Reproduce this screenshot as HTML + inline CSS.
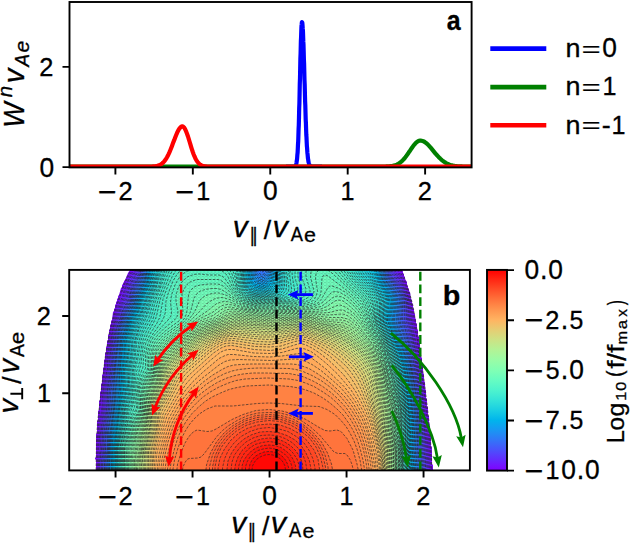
<!DOCTYPE html><html><head><meta charset="utf-8"><style>html,body{margin:0;padding:0;background:#fff}svg{display:block}</style></head><body><svg width="630" height="543" viewBox="0 0 630 543">
<defs><clipPath id="ca"><rect x="69.5" y="2" width="402.1" height="165.4"/></clipPath><clipPath id="cb"><rect x="69.2" y="269.9" width="400.7" height="200.5"/></clipPath><pattern id="tex" width="3.6" height="3" patternUnits="userSpaceOnUse"><rect x="0" y="0" width="2.4" height="1.1" fill="#1a1a1a"/><rect x="1.8" y="1.5" width="2.4" height="1.1" fill="#1a1a1a"/></pattern><linearGradient id="cg" x1="0" y1="1" x2="0" y2="0">
<stop offset="0.00" stop-color="#8000ff"/>
<stop offset="0.05" stop-color="#6628fe"/>
<stop offset="0.10" stop-color="#4c4ffc"/>
<stop offset="0.15" stop-color="#3374f8"/>
<stop offset="0.20" stop-color="#1996f3"/>
<stop offset="0.25" stop-color="#00b4ec"/>
<stop offset="0.30" stop-color="#19cee3"/>
<stop offset="0.35" stop-color="#33e3d9"/>
<stop offset="0.40" stop-color="#4df3ce"/>
<stop offset="0.45" stop-color="#66fcc2"/>
<stop offset="0.50" stop-color="#80ffb4"/>
<stop offset="0.55" stop-color="#99fca6"/>
<stop offset="0.60" stop-color="#b2f396"/>
<stop offset="0.65" stop-color="#cce385"/>
<stop offset="0.70" stop-color="#e5ce74"/>
<stop offset="0.75" stop-color="#ffb462"/>
<stop offset="0.80" stop-color="#ff964f"/>
<stop offset="0.85" stop-color="#ff743c"/>
<stop offset="0.90" stop-color="#ff4f28"/>
<stop offset="0.95" stop-color="#ff2814"/>
<stop offset="1.00" stop-color="#ff0000"/>
</linearGradient></defs>
<rect width="630" height="543" fill="#fff"/>
<g clip-path="url(#ca)" fill="none" stroke-width="4.2" stroke-linejoin="round">
<path stroke="#0000ff" d="M286.0 166.60 286.1 166.60 286.2 166.60 286.4 166.60 286.5 166.60 286.6 166.60 286.7 166.60 286.8 166.60 287.0 166.60 287.1 166.60 287.2 166.60 287.3 166.60 287.4 166.60 287.6 166.60 287.7 166.60 287.8 166.60 287.9 166.60 288.0 166.60 288.2 166.60 288.3 166.60 288.4 166.60 288.5 166.60 288.6 166.60 288.8 166.60 288.9 166.60 289.0 166.60 289.1 166.60 289.3 166.60 289.4 166.60 289.5 166.60 289.6 166.60 289.7 166.60 289.9 166.60 290.0 166.60 290.1 166.60 290.2 166.60 290.3 166.60 290.5 166.60 290.6 166.60 290.7 166.60 290.8 166.60 290.9 166.60 291.1 166.60 291.2 166.60 291.3 166.60 291.4 166.60 291.5 166.60 291.7 166.60 291.8 166.60 291.9 166.60 292.0 166.60 292.1 166.60 292.3 166.60 292.4 166.60 292.5 166.60 292.6 166.60 292.7 166.59 292.9 166.59 293.0 166.59 293.1 166.59 293.2 166.58 293.3 166.58 293.5 166.58 293.6 166.57 293.7 166.56 293.8 166.55 293.9 166.54 294.1 166.52 294.2 166.50 294.3 166.47 294.4 166.44 294.5 166.40 294.7 166.36 294.8 166.30 294.9 166.24 295.0 166.15 295.2 166.06 295.3 165.94 295.4 165.80 295.5 165.63 295.6 165.44 295.8 165.21 295.9 164.94 296.0 164.63 296.1 164.26 296.2 163.83 296.4 163.34 296.5 162.78 296.6 162.13 296.7 161.39 296.8 160.55 297.0 159.59 297.1 158.52 297.2 157.31 297.3 155.96 297.4 154.45 297.6 152.78 297.7 150.93 297.8 148.89 297.9 146.66 298.0 144.23 298.2 141.59 298.3 138.73 298.4 135.65 298.5 132.34 298.6 128.82 298.8 125.08 298.9 121.12 299.0 116.96 299.1 112.60 299.2 108.06 299.4 103.36 299.5 98.52 299.6 93.56 299.7 88.51 299.8 83.39 300.0 78.25 300.1 73.11 300.2 68.01 300.3 63.00 300.4 58.10 300.6 53.36 300.7 48.82 300.8 44.53 300.9 40.51 301.1 36.81 301.2 33.46 301.3 30.49 301.4 27.94 301.5 25.82 301.7 24.17 301.8 22.99 301.9 22.30 302.0 22.10 302.1 22.31 302.3 22.84 302.4 23.71 302.5 24.90 302.6 26.41 302.7 28.22 302.9 30.33 303.0 32.71 303.1 35.36 303.2 38.26 303.3 41.38 303.5 44.70 303.6 48.22 303.7 51.90 303.8 55.72 303.9 59.66 304.1 63.70 304.2 67.82 304.3 72.00 304.4 76.20 304.5 80.42 304.7 84.64 304.8 88.82 304.9 92.97 305.0 97.05 305.1 101.06 305.3 104.99 305.4 108.81 305.5 112.52 305.6 116.11 305.7 119.57 305.9 122.89 306.0 126.08 306.1 129.12 306.2 132.01 306.3 134.75 306.5 137.34 306.6 139.79 306.7 142.09 306.8 144.24 306.9 146.25 307.1 148.12 307.2 149.86 307.3 151.47 307.4 152.96 307.6 154.33 307.7 155.58 307.8 156.74 307.9 157.79 308.0 158.75 308.2 159.62 308.3 160.40 308.4 161.12 308.5 161.76 308.6 162.33 308.8 162.85 308.9 163.31 309.0 163.72 309.1 164.09 309.2 164.41 309.4 164.70 309.5 164.95 309.6 165.18 309.7 165.37 309.8 165.54 310.0 165.69 310.1 165.82 310.2 165.93 310.3 166.03 310.4 166.12 310.6 166.19 310.7 166.25 310.8 166.31 310.9 166.35 311.0 166.39 311.2 166.43 311.3 166.45 311.4 166.48 311.5 166.50 311.6 166.52 311.8 166.53 311.9 166.54 312.0 166.55 312.1 166.56 312.2 166.57 312.4 166.57 312.5 166.58 312.6 166.58 312.7 166.59 312.8 166.59 313.0 166.59 313.1 166.59 313.2 166.59 313.3 166.59 313.5 166.60 313.6 166.60 313.7 166.60 313.8 166.60 313.9 166.60 314.1 166.60 314.2 166.60 314.3 166.60 314.4 166.60 314.5 166.60 314.7 166.60 314.8 166.60 314.9 166.60 315.0 166.60 315.1 166.60 315.3 166.60 315.4 166.60 315.5 166.60 315.6 166.60 315.7 166.60 315.9 166.60 316.0 166.60 316.1 166.60 316.2 166.60 316.3 166.60 316.5 166.60 316.6 166.60 316.7 166.60 316.8 166.60 316.9 166.60 317.1 166.60 317.2 166.60 317.3 166.60 317.4 166.60 317.5 166.60 317.7 166.60 317.8 166.60 317.9 166.60 318.0 166.60 318.1 166.60 318.3 166.60 318.4 166.60 318.5 166.60 318.6 166.60 318.7 166.60 318.9 166.60 319.0 166.60 319.1 166.60 319.2 166.60 319.4 166.60 319.5 166.60 319.6 166.60 319.7 166.60 319.8 166.60 320.0 166.60 320.1 166.60 320.2 166.60 320.3 166.60 320.4 166.60 320.6 166.60 320.7 166.60 320.8 166.60 320.9 166.60 321.0 166.60 321.2 166.60 321.3 166.60 321.4 166.60 321.5 166.60 321.6 166.60 321.8 166.60 321.9 166.60 322.0 166.60"/>
<path stroke="#008000" d="M69.5 166.60 70.3 166.60 71.1 166.60 71.9 166.60 72.7 166.60 73.5 166.60 74.3 166.60 75.1 166.60 75.9 166.60 76.8 166.60 77.6 166.60 78.4 166.60 79.2 166.60 80.0 166.60 80.8 166.60 81.6 166.60 82.4 166.60 83.2 166.60 84.0 166.60 84.8 166.60 85.6 166.60 86.4 166.60 87.2 166.60 88.0 166.60 88.8 166.60 89.6 166.60 90.5 166.60 91.3 166.60 92.1 166.60 92.9 166.60 93.7 166.60 94.5 166.60 95.3 166.60 96.1 166.60 96.9 166.60 97.7 166.60 98.5 166.60 99.3 166.60 100.1 166.60 100.9 166.60 101.7 166.60 102.5 166.60 103.3 166.60 104.1 166.60 105.0 166.60 105.8 166.60 106.6 166.60 107.4 166.60 108.2 166.60 109.0 166.60 109.8 166.60 110.6 166.60 111.4 166.60 112.2 166.60 113.0 166.60 113.8 166.60 114.6 166.60 115.4 166.60 116.2 166.60 117.0 166.60 117.8 166.60 118.7 166.60 119.5 166.60 120.3 166.60 121.1 166.60 121.9 166.60 122.7 166.60 123.5 166.60 124.3 166.60 125.1 166.60 125.9 166.60 126.7 166.60 127.5 166.60 128.3 166.60 129.1 166.60 129.9 166.60 130.7 166.60 131.5 166.60 132.4 166.60 133.2 166.60 134.0 166.60 134.8 166.60 135.6 166.60 136.4 166.60 137.2 166.60 138.0 166.60 138.8 166.60 139.6 166.60 140.4 166.60 141.2 166.60 142.0 166.60 142.8 166.60 143.6 166.60 144.4 166.60 145.2 166.60 146.1 166.60 146.9 166.60 147.7 166.60 148.5 166.60 149.3 166.60 150.1 166.60 150.9 166.60 151.7 166.60 152.5 166.60 153.3 166.60 154.1 166.60 154.9 166.60 155.7 166.60 156.5 166.60 157.3 166.60 158.1 166.60 158.9 166.60 159.8 166.60 160.6 166.60 161.4 166.60 162.2 166.60 163.0 166.60 163.8 166.60 164.6 166.60 165.4 166.60 166.2 166.60 167.0 166.60 167.8 166.60 168.6 166.60 169.4 166.60 170.2 166.60 171.0 166.60 171.8 166.60 172.6 166.60 173.4 166.60 174.3 166.60 175.1 166.60 175.9 166.60 176.7 166.60 177.5 166.60 178.3 166.60 179.1 166.60 179.9 166.60 180.7 166.60 181.5 166.60 182.3 166.60 183.1 166.60 183.9 166.60 184.7 166.60 185.5 166.60 186.3 166.60 187.1 166.60 188.0 166.60 188.8 166.60 189.6 166.60 190.4 166.60 191.2 166.60 192.0 166.60 192.8 166.60 193.6 166.60 194.4 166.60 195.2 166.60 196.0 166.60 196.8 166.60 197.6 166.60 198.4 166.60 199.2 166.60 200.0 166.60 200.8 166.60 201.7 166.60 202.5 166.60 203.3 166.60 204.1 166.60 204.9 166.60 205.7 166.60 206.5 166.60 207.3 166.60 208.1 166.60 208.9 166.60 209.7 166.60 210.5 166.60 211.3 166.60 212.1 166.60 212.9 166.60 213.7 166.60 214.5 166.60 215.4 166.60 216.2 166.60 217.0 166.60 217.8 166.60 218.6 166.60 219.4 166.60 220.2 166.60 221.0 166.60 221.8 166.60 222.6 166.60 223.4 166.60 224.2 166.60 225.0 166.60 225.8 166.60 226.6 166.60 227.4 166.60 228.2 166.60 229.1 166.60 229.9 166.60 230.7 166.60 231.5 166.60 232.3 166.60 233.1 166.60 233.9 166.60 234.7 166.60 235.5 166.60 236.3 166.60 237.1 166.60 237.9 166.60 238.7 166.60 239.5 166.60 240.3 166.60 241.1 166.60 241.9 166.60 242.7 166.60 243.6 166.60 244.4 166.60 245.2 166.60 246.0 166.60 246.8 166.60 247.6 166.60 248.4 166.60 249.2 166.60 250.0 166.60 250.8 166.60 251.6 166.60 252.4 166.60 253.2 166.60 254.0 166.60 254.8 166.60 255.6 166.60 256.4 166.60 257.3 166.60 258.1 166.60 258.9 166.60 259.7 166.60 260.5 166.60 261.3 166.60 262.1 166.60 262.9 166.60 263.7 166.60 264.5 166.60 265.3 166.60 266.1 166.60 266.9 166.60 267.7 166.60 268.5 166.60 269.3 166.60 270.1 166.60 271.0 166.60 271.8 166.60 272.6 166.60 273.4 166.60 274.2 166.60 275.0 166.60 275.8 166.60 276.6 166.60 277.4 166.60 278.2 166.60 279.0 166.60 279.8 166.60 280.6 166.60 281.4 166.60 282.2 166.60 283.0 166.60 283.8 166.60 284.7 166.60 285.5 166.60 286.3 166.60 287.1 166.60 287.9 166.60 288.7 166.60 289.5 166.60 290.3 166.60 291.1 166.60 291.9 166.60 292.7 166.60 293.5 166.60 294.3 166.60 295.1 166.60 295.9 166.60 296.7 166.60 297.5 166.60 298.4 166.60 299.2 166.60 300.0 166.60 300.8 166.60 301.6 166.60 302.4 166.60 303.2 166.60 304.0 166.60 304.8 166.60 305.6 166.60 306.4 166.60 307.2 166.60 308.0 166.60 308.8 166.60 309.6 166.60 310.4 166.60 311.2 166.60 312.0 166.60 312.9 166.60 313.7 166.60 314.5 166.60 315.3 166.60 316.1 166.60 316.9 166.60 317.7 166.60 318.5 166.60 319.3 166.60 320.1 166.60 320.9 166.60 321.7 166.60 322.5 166.60 323.3 166.60 324.1 166.60 324.9 166.60 325.7 166.60 326.6 166.60 327.4 166.60 328.2 166.60 329.0 166.60 329.8 166.60 330.6 166.60 331.4 166.60 332.2 166.60 333.0 166.60 333.8 166.60 334.6 166.60 335.4 166.60 336.2 166.60 337.0 166.60 337.8 166.60 338.6 166.60 339.4 166.60 340.3 166.60 341.1 166.60 341.9 166.60 342.7 166.60 343.5 166.60 344.3 166.60 345.1 166.60 345.9 166.60 346.7 166.60 347.5 166.60 348.3 166.60 349.1 166.60 349.9 166.60 350.7 166.60 351.5 166.60 352.3 166.60 353.1 166.60 354.0 166.60 354.8 166.60 355.6 166.60 356.4 166.60 357.2 166.60 358.0 166.60 358.8 166.60 359.6 166.60 360.4 166.60 361.2 166.60 362.0 166.60 362.8 166.60 363.6 166.60 364.4 166.60 365.2 166.60 366.0 166.60 366.8 166.60 367.7 166.60 368.5 166.60 369.3 166.60 370.1 166.60 370.9 166.60 371.7 166.60 372.5 166.60 373.3 166.60 374.1 166.60 374.9 166.60 375.7 166.60 376.5 166.60 377.3 166.59 378.1 166.59 378.9 166.59 379.7 166.59 380.5 166.58 381.3 166.57 382.2 166.57 383.0 166.55 383.8 166.54 384.6 166.52 385.4 166.50 386.2 166.47 387.0 166.44 387.8 166.39 388.6 166.33 389.4 166.27 390.2 166.18 391.0 166.08 391.8 165.96 392.6 165.81 393.4 165.64 394.2 165.43 395.0 165.19 395.9 164.91 396.7 164.58 397.5 164.21 398.3 163.78 399.1 163.29 399.9 162.75 400.7 162.14 401.5 161.46 402.3 160.72 403.1 159.90 403.9 159.02 404.7 158.08 405.5 157.07 406.3 156.01 407.1 154.89 407.9 153.74 408.7 152.56 409.6 151.35 410.4 150.14 411.2 148.94 412.0 147.76 412.8 146.63 413.6 145.54 414.4 144.53 415.2 143.61 416.0 142.79 416.8 142.08 417.6 141.50 418.4 141.06 419.2 140.76 420.0 140.62 420.8 140.61 421.6 140.72 422.4 140.92 423.3 141.23 424.1 141.62 424.9 142.11 425.7 142.68 426.5 143.33 427.3 144.05 428.1 144.83 428.9 145.67 429.7 146.55 430.5 147.47 431.3 148.42 432.1 149.39 432.9 150.37 433.7 151.35 434.5 152.33 435.3 153.30 436.1 154.25 437.0 155.18 437.8 156.08 438.6 156.95 439.4 157.78 440.2 158.57 441.0 159.32 441.8 160.02 442.6 160.68 443.4 161.29 444.2 161.86 445.0 162.39 445.8 162.87 446.6 163.30 447.4 163.70 448.2 164.06 449.0 164.39 449.8 164.68 450.6 164.94 451.5 165.17 452.3 165.37 453.1 165.55 453.9 165.70 454.7 165.84 455.5 165.96 456.3 166.06 457.1 166.15 457.9 166.22 458.7 166.28 459.5 166.34 460.3 166.38 461.1 166.42 461.9 166.45 462.7 166.48 463.5 166.50 464.3 166.52 465.2 166.54 466.0 166.55 466.8 166.56 467.6 166.57 468.4 166.57 469.2 166.58 470.0 166.58 470.8 166.59 471.6 166.59"/>
<path stroke="#ff0000" d="M69.5 166.60 70.3 166.60 71.1 166.60 71.9 166.60 72.7 166.60 73.5 166.60 74.3 166.60 75.1 166.60 75.9 166.60 76.8 166.60 77.6 166.60 78.4 166.60 79.2 166.60 80.0 166.60 80.8 166.60 81.6 166.60 82.4 166.60 83.2 166.60 84.0 166.60 84.8 166.60 85.6 166.60 86.4 166.60 87.2 166.60 88.0 166.60 88.8 166.60 89.6 166.60 90.5 166.60 91.3 166.60 92.1 166.60 92.9 166.60 93.7 166.60 94.5 166.60 95.3 166.60 96.1 166.60 96.9 166.60 97.7 166.60 98.5 166.60 99.3 166.60 100.1 166.60 100.9 166.60 101.7 166.60 102.5 166.60 103.3 166.60 104.1 166.60 105.0 166.60 105.8 166.60 106.6 166.60 107.4 166.60 108.2 166.60 109.0 166.60 109.8 166.60 110.6 166.60 111.4 166.60 112.2 166.60 113.0 166.60 113.8 166.60 114.6 166.60 115.4 166.60 116.2 166.60 117.0 166.60 117.8 166.60 118.7 166.60 119.5 166.60 120.3 166.60 121.1 166.60 121.9 166.60 122.7 166.60 123.5 166.60 124.3 166.60 125.1 166.60 125.9 166.60 126.7 166.60 127.5 166.60 128.3 166.60 129.1 166.60 129.9 166.60 130.7 166.60 131.5 166.60 132.4 166.60 133.2 166.60 134.0 166.60 134.8 166.60 135.6 166.60 136.4 166.60 137.2 166.60 138.0 166.60 138.8 166.60 139.6 166.60 140.4 166.60 141.2 166.60 142.0 166.60 142.8 166.60 143.6 166.60 144.4 166.59 145.2 166.59 146.1 166.59 146.9 166.58 147.7 166.58 148.5 166.57 149.3 166.55 150.1 166.54 150.9 166.51 151.7 166.48 152.5 166.44 153.3 166.38 154.1 166.31 154.9 166.22 155.7 166.10 156.5 165.95 157.3 165.77 158.1 165.54 158.9 165.25 159.8 164.91 160.6 164.49 161.4 163.98 162.2 163.39 163.0 162.69 163.8 161.87 164.6 160.93 165.4 159.86 166.2 158.65 167.0 157.30 167.8 155.80 168.6 154.16 169.4 152.39 170.2 150.50 171.0 148.50 171.8 146.41 172.6 144.26 173.4 142.08 174.3 139.91 175.1 137.77 175.9 135.71 176.7 133.77 177.5 131.98 178.3 130.39 179.1 129.03 179.9 127.93 180.7 127.11 181.5 126.60 182.3 126.40 183.1 126.59 183.9 127.27 184.7 128.40 185.5 129.95 186.3 131.86 187.1 134.07 188.0 136.50 188.8 139.10 189.6 141.77 190.4 144.45 191.2 147.09 192.0 149.62 192.8 152.00 193.6 154.20 194.4 156.19 195.2 157.97 196.0 159.53 196.8 160.88 197.6 162.03 198.4 162.99 199.2 163.79 200.0 164.43 200.8 164.95 201.7 165.36 202.5 165.68 203.3 165.92 204.1 166.11 204.9 166.25 205.7 166.35 206.5 166.43 207.3 166.48 208.1 166.52 208.9 166.54 209.7 166.56 210.5 166.58 211.3 166.58 212.1 166.59 212.9 166.59 213.7 166.60 214.5 166.60 215.4 166.60 216.2 166.60 217.0 166.60 217.8 166.60 218.6 166.60 219.4 166.60 220.2 166.60 221.0 166.60 221.8 166.60 222.6 166.60 223.4 166.60 224.2 166.60 225.0 166.60 225.8 166.60 226.6 166.60 227.4 166.60 228.2 166.60 229.1 166.60 229.9 166.60 230.7 166.60 231.5 166.60 232.3 166.60 233.1 166.60 233.9 166.60 234.7 166.60 235.5 166.60 236.3 166.60 237.1 166.60 237.9 166.60 238.7 166.60 239.5 166.60 240.3 166.60 241.1 166.60 241.9 166.60 242.7 166.60 243.6 166.60 244.4 166.60 245.2 166.60 246.0 166.60 246.8 166.60 247.6 166.60 248.4 166.60 249.2 166.60 250.0 166.60 250.8 166.60 251.6 166.60 252.4 166.60 253.2 166.60 254.0 166.60 254.8 166.60 255.6 166.60 256.4 166.60 257.3 166.60 258.1 166.60 258.9 166.60 259.7 166.60 260.5 166.60 261.3 166.60 262.1 166.60 262.9 166.60 263.7 166.60 264.5 166.60 265.3 166.60 266.1 166.60 266.9 166.60 267.7 166.60 268.5 166.60 269.3 166.60 270.1 166.60 271.0 166.60 271.8 166.60 272.6 166.60 273.4 166.60 274.2 166.60 275.0 166.60 275.8 166.60 276.6 166.60 277.4 166.60 278.2 166.60 279.0 166.60 279.8 166.60 280.6 166.60 281.4 166.60 282.2 166.60 283.0 166.60 283.8 166.60 284.7 166.60 285.5 166.60 286.3 166.60 287.1 166.60 287.9 166.60 288.7 166.60 289.5 166.60 290.3 166.60 291.1 166.60 291.9 166.60 292.7 166.60 293.5 166.60 294.3 166.60 295.1 166.60 295.9 166.60 296.7 166.60 297.5 166.60 298.4 166.60 299.2 166.60 300.0 166.60 300.8 166.60 301.6 166.60 302.4 166.60 303.2 166.60 304.0 166.60 304.8 166.60 305.6 166.60 306.4 166.60 307.2 166.60 308.0 166.60 308.8 166.60 309.6 166.60 310.4 166.60 311.2 166.60 312.0 166.60 312.9 166.60 313.7 166.60 314.5 166.60 315.3 166.60 316.1 166.60 316.9 166.60 317.7 166.60 318.5 166.60 319.3 166.60 320.1 166.60 320.9 166.60 321.7 166.60 322.5 166.60 323.3 166.60 324.1 166.60 324.9 166.60 325.7 166.60 326.6 166.60 327.4 166.60 328.2 166.60 329.0 166.60 329.8 166.60 330.6 166.60 331.4 166.60 332.2 166.60 333.0 166.60 333.8 166.60 334.6 166.60 335.4 166.60 336.2 166.60 337.0 166.60 337.8 166.60 338.6 166.60 339.4 166.60 340.3 166.60 341.1 166.60 341.9 166.60 342.7 166.60 343.5 166.60 344.3 166.60 345.1 166.60 345.9 166.60 346.7 166.60 347.5 166.60 348.3 166.60 349.1 166.60 349.9 166.60 350.7 166.60 351.5 166.60 352.3 166.60 353.1 166.60 354.0 166.60 354.8 166.60 355.6 166.60 356.4 166.60 357.2 166.60 358.0 166.60 358.8 166.60 359.6 166.60 360.4 166.60 361.2 166.60 362.0 166.60 362.8 166.60 363.6 166.60 364.4 166.60 365.2 166.60 366.0 166.60 366.8 166.60 367.7 166.60 368.5 166.60 369.3 166.60 370.1 166.60 370.9 166.60 371.7 166.60 372.5 166.60 373.3 166.60 374.1 166.60 374.9 166.60 375.7 166.60 376.5 166.60 377.3 166.60 378.1 166.60 378.9 166.60 379.7 166.60 380.5 166.60 381.3 166.60 382.2 166.60 383.0 166.60 383.8 166.60 384.6 166.60 385.4 166.60 386.2 166.60 387.0 166.60 387.8 166.60 388.6 166.60 389.4 166.60 390.2 166.60 391.0 166.60 391.8 166.60 392.6 166.60 393.4 166.60 394.2 166.60 395.0 166.60 395.9 166.60 396.7 166.60 397.5 166.60 398.3 166.60 399.1 166.60 399.9 166.60 400.7 166.60 401.5 166.60 402.3 166.60 403.1 166.60 403.9 166.60 404.7 166.60 405.5 166.60 406.3 166.60 407.1 166.60 407.9 166.60 408.7 166.60 409.6 166.60 410.4 166.60 411.2 166.60 412.0 166.60 412.8 166.60 413.6 166.60 414.4 166.60 415.2 166.60 416.0 166.60 416.8 166.60 417.6 166.60 418.4 166.60 419.2 166.60 420.0 166.60 420.8 166.60 421.6 166.60 422.4 166.60 423.3 166.60 424.1 166.60 424.9 166.60 425.7 166.60 426.5 166.60 427.3 166.60 428.1 166.60 428.9 166.60 429.7 166.60 430.5 166.60 431.3 166.60 432.1 166.60 432.9 166.60 433.7 166.60 434.5 166.60 435.3 166.60 436.1 166.60 437.0 166.60 437.8 166.60 438.6 166.60 439.4 166.60 440.2 166.60 441.0 166.60 441.8 166.60 442.6 166.60 443.4 166.60 444.2 166.60 445.0 166.60 445.8 166.60 446.6 166.60 447.4 166.60 448.2 166.60 449.0 166.60 449.8 166.60 450.6 166.60 451.5 166.60 452.3 166.60 453.1 166.60 453.9 166.60 454.7 166.60 455.5 166.60 456.3 166.60 457.1 166.60 457.9 166.60 458.7 166.60 459.5 166.60 460.3 166.60 461.1 166.60 461.9 166.60 462.7 166.60 463.5 166.60 464.3 166.60 465.2 166.60 466.0 166.60 466.8 166.60 467.6 166.60 468.4 166.60 469.2 166.60 470.0 166.60 470.8 166.60 471.6 166.60"/>
</g>
<rect x="69.5" y="2" width="402.1" height="165.4" fill="none" stroke="#000" stroke-width="1.9"/>
<path stroke="#000" stroke-width="1.9" d="M115.40 167.4v7M192.83 167.4v7M270.26 167.4v7M347.69 167.4v7M425.12 167.4v7M69.5 167.1h-7M69.5 66.9h-7"/>
<g font-family="Liberation Sans, sans-serif" fill="#000">
<text transform="translate(98.03 202.04) scale(0.3221 0.2911)" font-size="100" stroke="#000" stroke-width="0.98">−</text><text transform="translate(118.47 200.20) scale(0.2540 0.2657)" font-size="100" stroke="#000" stroke-width="1.15">2</text>
<text transform="translate(175.46 202.04) scale(0.3221 0.2911)" font-size="100" stroke="#000" stroke-width="0.98">−</text><text transform="translate(196.18 200.20) scale(0.2517 0.2649)" font-size="100" stroke="#000" stroke-width="1.16">1</text>
<text transform="translate(262.93 200.29) scale(0.2635 0.2671)" font-size="100" stroke="#000" stroke-width="1.13">0</text>
<text transform="translate(340.57 200.20) scale(0.2517 0.2649)" font-size="100" stroke="#000" stroke-width="1.16">1</text>
<text transform="translate(417.72 200.20) scale(0.2540 0.2657)" font-size="100" stroke="#000" stroke-width="1.15">2</text>
<text transform="translate(39.41 176.59) scale(0.2635 0.2671)" font-size="100" stroke="#000" stroke-width="1.13">0</text>
<text transform="translate(39.35 76.30) scale(0.2540 0.2657)" font-size="100" stroke="#000" stroke-width="1.15">2</text>
<text transform="translate(232.86 236.50) scale(0.3001 0.2896)" font-size="100" font-style="italic" stroke="#000" stroke-width="1.02">v</text><text transform="translate(249.96 245.60) scale(0.1763 0.2650)" font-size="100" stroke="#000" stroke-width="1.39">‖</text><text transform="translate(263.80 239.05) scale(0.2663 0.2560)" font-size="100" stroke="#000" stroke-width="1.15">/</text><text transform="translate(272.41 236.50) scale(0.3082 0.2896)" font-size="100" font-style="italic" stroke="#000" stroke-width="1.00">v</text><text transform="translate(290.66 241.30) scale(0.1825 0.2049)" font-size="100" stroke="#000" stroke-width="1.55">A</text><text transform="translate(304.09 241.50) scale(0.2152 0.2063)" font-size="100" stroke="#000" stroke-width="1.42">e</text>
<text transform="translate(23.60 127.83) rotate(-90) scale(0.2692 0.3023)" font-size="100" font-style="italic" stroke="#000" stroke-width="1.05">W</text>
<text transform="translate(12.40 97.34) rotate(-90) scale(0.2044 0.1953)" font-size="100" font-style="italic" stroke="#000" stroke-width="1.50">n</text>
<text transform="translate(23.90 83.30) rotate(-90) scale(0.2920 0.2915)" font-size="100" font-style="italic" stroke="#000" stroke-width="1.03">v</text>
<text transform="translate(28.50 66.38) rotate(-90) scale(0.1871 0.2049)" font-size="100" font-style="italic" stroke="#000" stroke-width="1.53">A</text>
<text transform="translate(28.60 52.62) rotate(-90) scale(0.2143 0.2081)" font-size="100" font-style="italic" stroke="#000" stroke-width="1.42">e</text>
<text transform="translate(446.87 29.73) scale(0.2494 0.2774)" font-size="100" font-weight="bold" stroke="#000" stroke-width="1.14">a</text>
</g>
<path stroke="#0000ff" stroke-width="4.6" d="M490.3 48.6H546.3"/>
<path stroke="#008000" stroke-width="4.6" d="M490.3 87.1H546.3"/>
<path stroke="#ff0000" stroke-width="4.6" d="M490.3 125.3H546.3"/>
<g font-family="Liberation Sans, sans-serif" fill="#000">
<text transform="translate(565.38 57.30) scale(0.2695 0.2602)" font-size="100" stroke="#000" stroke-width="1.13">n</text><text transform="translate(581.82 56.68) scale(0.3221 0.2189)" font-size="100" stroke="#000" stroke-width="1.13">=</text><text transform="translate(602.31 57.39) scale(0.2635 0.2671)" font-size="100" stroke="#000" stroke-width="1.13">0</text>
<text transform="translate(565.38 95.45) scale(0.2695 0.2602)" font-size="100" stroke="#000" stroke-width="1.13">n</text><text transform="translate(581.82 94.83) scale(0.3221 0.2189)" font-size="100" stroke="#000" stroke-width="1.13">=</text><text transform="translate(602.52 95.45) scale(0.2517 0.2649)" font-size="100" stroke="#000" stroke-width="1.16">1</text>
<text transform="translate(565.38 133.60) scale(0.2695 0.2602)" font-size="100" stroke="#000" stroke-width="1.13">n</text><text transform="translate(581.82 132.98) scale(0.3221 0.2189)" font-size="100" stroke="#000" stroke-width="1.13">=</text><text transform="translate(601.72 133.56) scale(0.2695 0.2562)" font-size="100" stroke="#000" stroke-width="1.14">-</text><text transform="translate(611.54 133.60) scale(0.2517 0.2649)" font-size="100" stroke="#000" stroke-width="1.16">1</text>
</g>
<g clip-path="url(#cb)">
<path fill="#7a08ff" d="M134 262l265 0 1 4 3 5.5 0 1.5 1 1 0 2 1 1 0 2 2 3 0 3 1 1 0 2 1 1 0 2 1 1 1 7 1 1 0 3 1 1 0 4 1 1 0 4 1 1 0 4 1 1 0 4 1 1 0 5 1 1 0 6 1 1 0 5 1 1 0 7 1 1 0 6 1 1 0 7 1 1 0 7 1 1 0 7 1 1 0 7 1 1 0 8 1 1 0 7 1 1 0 8 1 1 0 8 1 1 0 9 1 1 0 11 1 1 0 17 1 1 0 13-337 0 0-18-1-1 0-1 1-1 0-23 1-1 0-12 1-1 0-9 1-1 0-9 1-1 0-8 1-1 0-7 1-1 0-8 1-1 0-6 1-1 0-7 1-1 0-6 1-1 0-5 1-1 0-5 1-1 0-5 1-1 0-4 1-1 0-4 1-1 0-3 1-1 1-8 1-1 0-2 1-1 0-3 1-1 0-2 1-1 0-2 1-1 0-2 1-1 2-7 1-1 0-2 1-1 0-1 1-1 0-1 1-1 3-7 5-8 1-3z"/>
<path fill="#7018ff" d="M135.5 262l261 0 3 8 4.5 10 5.5 15 2 9 6 36 6.5 48 4.5 38 2.5 35 0 17-334 0 0.5-40 1-14 3.5-36 4.5-34 3.5-22 6-23 8-23 4-9 5.5-8 2-7z"/>
<path fill="#6628fe" d="M137.5 262l256 0 3.5 9.5 5 9 4 9.5 4 13 1.5 16 6.5 34 5.5 45 3.5 35 2 32 0 13-330.5 0 0-15 1.5-14-0.5-11 0.5-11 2.5-17 1-19 3.5-22 1-15 3.5-19 1.5-7 5-18 5.5-13 3-11 2.5-6 6-9 2.5-9z"/>
<path fill="#5c38fd" d="M139 263l0-1 252.5 0 3 11 5.5 8.5 3.5 6.5 3 8 1.5 6 1.5 18 6 30 6.5 46 3 34 2 36 0 12-327 0 0-16 1.5-12-0.5-11 0.5-10 3-19 1-18 3-22 1.5-16 2.5-18 2-8 3-9 2.5-9 6-12 3.5-13 7-12 2.5-10z"/>
<path fill="#5247fc" d="M140.5 262l249 0 2.5 12 9.5 14 3.5 7.5 1.5 5.5 1 20 4.5 19 2 11 6.5 45 3 32 0.5 21 1.5 18-0.5 11-323.5 0 0-15 2-13-1-11 0.5-10 3.5-19 1-20 3-20 1-18 2.5-16 2-7 3.5-9 2.5-9 6.5-12 2.5-12 2-4 5.5-9 2-12z"/>
<path fill="#4756fb" d="M142 263l0-1 245.5 0 2.5 13 10 14 3 6 2 5 0 22 5 19 2.5 12 6.5 43 3 32 0 21 1.5 19 0 10-320.5 0 0-15 2-13-1-11 0.5-9 3.5-20 1-19 3-21 1-18 2.5-15 1.5-7 4-10 2-8 7-12 1.5-9 2-5 6.5-11 2-12z"/>
<path fill="#3d65fa" d="M143.5 262l242.5 0 2.5 14 10.5 14.5 3 6 1.5 4.5-1 17 0.5 5 5.5 19 2.5 12 6.5 42 2.5 31 0 22 2 18-0.5 11-317 0 0-14 1.5-14-0.5-11 0.5-8 3.5-21 1-19 3-21 1-18 2.5-15 1.5-7 6-17 6.5-12 3.5-13 6.5-12 2.5-14z"/>
<path fill="#3374f8" d="M144.5 262l113 0 2.5 5 2 1.5 2-1.5 2.5-5 118 0 1.5 11 1.5 4 10.5 15 2.5 5 1 4 0 5-1 12 0 5 2 7 4.5 14 2.5 11 6.5 40 2.5 32-0.5 22 2 18 0 11-314 0-0.5-11 2-17 0-18 3.5-22 1-15 2.5-24 1.5-17 2-16 1.5-7 6-17 6.5-12 3.5-12 6.5-13 1-4 1.5-11z"/>
<path fill="#2982f6" d="M146 262l109 0 1 5 2 4.5 2 2.5 2 1 2-1 2-3 3-9 114 0 1.5 10 1.5 5.5 2 3.5 8 11.5 3.5 7.5 0 5-1.5 12 0.5 6 1.5 7 6.5 19 4 17 3.5 26 3 31 0.5 11-1 15 2 18-0.5 11-311 0 0-12 1.5-16 0-17 3.5-23 5-56 2-15 2-7 5.5-17 6.5-12 4-12 6-13 1.5-5 1.5-11z"/>
<path fill="#1f8ff4" d="M147.5 262l105.5 0 1.5 7 1.5 5 3 3.5 3 0.5 3-1 2.5-3 2-5 1.5-7 110 0 2 10 1.5 6 2.5 4.5 7.5 10.5 2.5 6 0.5 6-1.5 12 0 6 2.5 8 7 20 4 18 3.5 24 2.5 30 0.5 11-1 15 2 18-0.5 11-308 0 0-12 1.5-32 3.5-24 7-71 1.5-6 5.5-16 6.5-13 4-11.5 6.5-13.5 1.5-6 1.5-11z"/>
<path fill="#149cf1" d="M148.5 262l102.5 0 2 9.5 2 5.5 3 3 4 1 4-1.5 3-3.5 2-5 2-9 106.5 0 1.5 9 2.5 8 2.5 4.5 6.5 9.5 2.5 6 0.5 6-2 12 0 5 3.5 11 7 18.5 4.5 18.5 3 24 2.5 28 0.5 12-1 16 2 16-0.5 12-305.5 0 0-13 1.5-29 6-47 4.5-49 7-22 6-12 4.5-12 6.5-14 1.5-8 1.5-10z"/>
<path fill="#0aa9ef" d="M150 263l0-1 99.5 0 2 11 2 6 3.5 3.5 4 1 5-1 2-1.5 2-2.5 2.5-6.5 2.5-10 102.5 0 1.5 8 3.5 10 8 14 2.5 5 0.5 6-2.5 12 0.5 5 5.5 16 5.5 14 4.5 18 3.5 25 2.5 27 0 12-1 16 2 16 0 12-303 0 0-14 1-25 7-50 1-20 3-29 6.5-21 6-12 3.5-10 7.5-16 2-9 1.5-9z"/>
<path fill="#00b4ec" d="M151.5 262l96.5 0 2 13 2 6 2 2.5 2 1 5 1.5 3-0.5 3-1 4-3.5 2.5-6 3-13 99 0 2 8 3 10 2.5 5 5.5 9 2.5 5 0.5 6-2.5 12 0 4 6.5 18 5.5 13.5 4.5 17.5 4 26 2 25 0.5 13-1.5 16 2 16 0 12-300.5 0 0-15 1-21 7.5-52 1-20 3-30 6-20 6-12 3.5-10 7.5-16 4-20z"/>
<path fill="#0abfe8" d="M153.5 262l92.5 0 3 16 2 5 1.5 2 2.5 2 6 1 4-0.5 3-1 2.5-1.5 2-2 2.5-6 3.5-15 94 0 6.5 19 7.5 13 2 5 0.5 6-1.5 11 0 5 12 32 5 18 3.5 26 2 23 0.5 13-1 17 2 16-0.5 12-298 0 1-31 5-38 3-19 1-20 1.5-14 1.5-16 6-20 5.5-10 3.5-10.5 7.5-15.5 5-22z"/>
<path fill="#14c9e5" d="M155.5 262l89 0 3 18 2 5 1.5 2 3 2 3 1 4 0 4 0 4-1 3-2 2-2 2-5 4-18 89 0 8.5 20 7.5 13 1.5 4 0.5 5-1.5 13 0.5 5 12 31 5 18 4 26 2 22 0.5 13-1 18 1.5 17 0 11-295.5 0 0.5-30 5-39 3.5-18 1-21 2-14 1-16 6-19 5-10 4-11 7.5-16 5.5-22z"/>
<path fill="#1fd3e1" d="M157.5 262l85.5 0 3 20 2 5 2 2 4 2 4 1 4 0 5-0.5 4-1 3-1.5 2-2 1.5-4 4.5-21 82.5 0 11 21 8.5 15 1 6-1.5 12 0.5 6 13 32 4.5 17 4 26 2 21 0.5 14-0.5 18 1.5 17 0 11-293.5 0 0.5-30 4-25 1.5-14 4-18 0.5-21 2-14 1.5-16 5.5-18 5.5-10 4-11 7-16 6-23z"/>
<path fill="#29dbde" d="M160 263l0.5-1 80.5 0 2 11 1.5 10 2 5 2.5 2.5 4 2.5 4 1 5 0 10-1 4-2 2-2 2-4 1-11 3-12 75.5 0 5.5 10 7 10 9.5 16 1.5 5-1 13 1 7 12.5 31 4.5 17 4.5 26 1.5 18 1 15-0.5 20 1 17 0 11-291 0 0.5-30 4.5-24 1.5-15 4-17 1-8 0-14 2.5-14 1.5-16 5-16.5 5-10.5 4.5-12 7-15 6.5-23z"/>
<path fill="#33e3d9" d="M163 263l0.5-1 75 0 3 12 1.5 10 2 5 3 3 4 2.5 4 1 6 0.5 7-0.5 6-1 4-2 2.5-2.5 1.5-5 0-10 4-13 68 0 7 13 9 10.5 6 8.5 2.5 5 1 4-0.5 13 1 7 12.5 30 5 17 4.5 25 2 17 0.5 16 0 22 1 19 0 9-288.5 0 0-30 5-24 1.5-14 3-11 1.5-6 0.5-9 0.5-14 2.5-13 2-16 4.5-15 5.5-12 4.5-12.5 6.5-14.5 7.5-24z"/>
<path fill="#3dead5" d="M166.5 263l0.5-1 69 0 4 12 1 11 3 6 3.5 3 4.5 2.5 5 1 6 0 9-0.5 6-1 4-1.5 3-2.5 1-2 0.5-3-0.5-13 4-12 60.5 0 8 14 11.5 12.5 4 5.5 3 5 1 5 0.5 12 1 7 12 29 5 16 4 21 3 21 1 15 1 53-286 0 0-30 5-24 1.5-14 3.5-9 1-6 1.5-11 0.5-14 2.5-12 2-17 3.5-11 6.5-14 4.5-14 6-14 5.5-17 3.5-8z"/>
<path fill="#47f0d1" d="M171.5 263l0.5-1 60.5 0 2.5 5 2 6 2 13 3.5 6 3.5 3.5 5 2.5 5 1 7 0.5 11-0.5 8-1 5-1.5 3-2.5 1.5-3 0-3-1.5-10-0.5-4 1.5-6 3-6 51.5 0 9.5 15 13 14 6 8.5 1.5 4.5 1 13 1.5 7 8 17 7.5 22 4.5 19 4 27 1 15 1 54-283.5 0 0-31 5.5-23 2-14 3-6 1-5 2-15 1-14 2.5-9 3-19 3.5-11 7-13 4-16 11-29 2.5-6 3-4z"/>
<path fill="#52f5cc" d="M178.5 263l1.5-1 46 0 4 4 2.5 4 2 5 2.5 12 2.5 4 2.5 3 4 3.5 5 2 5 1 8 0.5 23-1 4-1 4.5-3 2-3 0.5-3-0.5-4-2.5-8 0-5 1-5 3-6 41 0 12.5 17 13.5 14 5 7 2 6 2 12 1.5 6 7.5 16 7.5 21 5 20 4.5 28 2 69-281 0 0-31 8.5-35 3-8 4-27 3.5-13 1.5-13 1-7 4.5-11 7.5-14 1.5-5 3-14 8-20.5 5-10.5 2.5-3 3-3z"/>
<path fill="#5cf9c7" d="M306 263l1.5-1 25.5 0 5 5 12 15 14 14 3 4 2 4 6 21 7.5 15 6.5 18 4.5 17 2.5 12 3 16 1 9 1.5 38 0.5 28-278.5 0 0-31 8-29 5-10 0.5-13 2-11 2-7 4.5-9 0-13 1.5-8 2-6 2.5-5 10-14 2.5-5 1.5-5 0.5-11 2-7 5-13 3-5 3-4 3-3 3-1.5 7-2.5 8 0 20 1.5 4 1.5 4 3.5 2.5 4.5 3 9 2.5 5 5 6 5 3.5 5 2 6 1 31 0 6-1 6-2.5 3.5-2 2-3 0.5-5-4-11-0.5-5 1.5-5 3-5z"/>
<path fill="#66fcc2" d="M318 265l3-0.5 4 0.5 6 3 30.5 31 5.5 8 6.5 19 8 16 8 23 4 17 5 25 2 43 0.5 28-276.5 0 0-30 8.5-27 6-11 0-11 0.5-8 3-10 6-11 0-13 1.5-8 3-7.5 5-7 6-6 10.5-8.5 2.5-3 1-5-2-11 0-6 2.5-8 4.5-6.5 5-4 6-2 5-0.5 10 1 10 0 3 1 3 2.5 7.5 11.5 5.5 6 5 4 4 2 5 1.5 7 0.5 34 0 14.5-3 2.5-1 2-2 1.5-3 0.5-4-1-4-2.5-9 0-5 1-3 1.5-2 2-1.5 3-1.5z"/>
<path fill="#70febd" d="M323 276l2-1 1 0 4 2.5 19 14.5 10 10 5 7 7.5 18 7.5 13 2 4.5 7 20.5 4 16.5 5 26 2.5 42.5 0 28-273.5 0 0-29 8-25 6.5-14 0-11 1.5-8 2.5-9 6.5-12 0.5-12 1.5-8 3-6 5-6.5 6-5 13-9 4-4.5 2-4 1-4 1.5-16 1-3 2.5-3 3-2.5 5-1.5 9-1 8 0 3 0.5 3 1.5 17 14.5 4 2.5 4 1.5 6 1 7 0.5 27 0.5 10-0.5 13-2 4-2 2-2 2.5-3 1.5-4 0.5-5 0.5-9 1-3z"/>
<path fill="#7affb7" d="M333 292l5 0 7 3 7 6 7 7.5 4 6.5 7.5 15 7.5 12 7 18 5 19 6 30 1 23 1.5 18 0 28-271 0 0-24 0.5-5 7-23 7-15 0.5-12 1-7 2.5-8 6.5-13 1.5-13 2-7 3-5 4-5 19-14.5 6.5-6.5 6-8 5-11 2.5-3 3-2 5-2 5-1 4 0 8 2.5 7 4 7 4.5 8 3 11 1 36 0.5 14-1 8-2 5-3.5 7-8 3-2z"/>
<path fill="#85ffb1" d="M339 300l4 1 5 3.5 6 5.5 5 5.5 17 27 9 21.5 3.5 15 6 31 1 21 1.5 19 0 28-268 0 0.5-22 0.5-6 6-21 7-17 1.5-14 1.5-7 2-6 5.5-12 2.5-13 2-6 3.5-6 5.5-6 16-12 15-12.5 10.5-7.5 7.5-6 5-2 4-0.5 5 0.5 13 5.5 9 2 11 0.5 30 0.5 19-0.5 8.5-1 5.5-2 9-6 4-1z"/>
<path fill="#8ffeac" d="M228.5 307l4.5 0.5 10.5 2.5 7.5 1 22 1.5 50 0.5 6-0.5 8-2 4-0.5 3 0.5 4 2 7 5.5 5 5.5 14.5 20.5 6.5 14.5 3.5 10.5 8.5 41 1 21 2 19 0 28-265 0 0.5-22 3-15 3-11 6.5-17 2-14 1.5-7 6.5-16.5 3.5-14.5 3-7 3.5-5 4-4 27-21 7-4 11-4.5 10-7 5.5-1.5z"/>
<path fill="#99fca6" d="M227.5 312l6.5-1 17 2.5 12 1 17 0.5 22-0.5 28 3 12 0 7 2 7 5.5 13 15.5 4 5.5 7 14.5 3.5 9.5 8 40 1 21 2.5 19 0 28-262 0 0.5-19 4-21 7-23 2.5-14 1.5-7 6.5-17 4-14 2.5-6 3.5-5 4-4 25-19.5 9-5 12-4 8-5.5 4.5-2z"/>
<path fill="#a3f99f" d="M231 315l7-0.5 33 3 28-0.5 9 0.5 21 4 10 1 5 0.5 6 3 6 4.5 11 12 4 5 7 13 4 9.5 8 41 1 19 2.5 20 0 28-258.5 0 0-17 2.5-11 2-12 6-20 4-21 7-18 3-12 3.5-8 3.5-5 4.5-4 24-19 7-4 13-4.5 11-6 5-1.5z"/>
<path fill="#adf599" d="M232.5 318l7.5-0.5 34 2.5 26-1 12 1.5 17 4.5 11 1.5 6 2 7 5 11 10 4 4.5 4 6 6 11 2 6 3.5 18 4.5 21 1 20 3 20 0 28-255 0-0.5-9 1-9 2.5-10 1-11 5.5-19 2.5-14 2.5-9 6-16 3-12 3.5-7 3-4.5 4.5-4.5 24.5-19.5 8-4.5 12-4.5 11-5 5.5-1.5z"/>
<path fill="#b8f093" d="M233 321l9-0.5 32 2 26-1 10 1 28 7.5 6 2 7 4.5 12 10.5 5 6 4 6 5 9 1.5 5 3 16 4.5 21 1.5 20 3 19 0.5 29-252 0 0-9 0.5-9 2-9 1.5-11 4.5-19 2-13 2.5-7.5 7-17.5 3-13 2.5-5 3.5-5 4-4 25-20.5 9-4.5 21-8.5 6-1.5z"/>
<path fill="#c2ea8c" d="M233 324l10-0.5 31 2 26-1.5 9 1 25 7.5 8 3 8 5 12 10.5 4.5 5 4.5 6.5 3.5 6.5 2 5 3 17 4 19 2 20 3.5 19 0.5 29-248.5 0 0-9 1-10 2.5-16 4.5-21 2-13 2-6.5 7-16.5 3.5-14 2.5-5 3-4.5 4.5-4.5 25.5-21 7-3.5 16-6 11-3.5z"/>
<path fill="#cce385" d="M233 327l10-0.5 28 2 27-2 10 1 21.5 6.5 9.5 4 9.5 6 11.5 9.5 4.5 5.5 4.5 6 3.5 6 1.5 5.5 7 33.5 3 20 3 18 1 30-245 0 0.5-12 1.5-16 5.5-25 2-16 9-21 4-15 2.5-5 3-4 4-4 25-20.5 7-3.5 12-5 8-2.5 6-1.5z"/>
<path fill="#d6db7e" d="M233 330l10 0 27 1.5 10-0.5 17-2 10 1 13 4 15 6 11 7 11 9 5.5 6 4.5 7 2.5 5 2 6 7.5 32 6 35 1 8 0.5 23-241 0 0-11 1-17 5.5-24 2-16 1.5-4 7.5-16 5-15.5 2-4.5 6-7 26-21.5 7-3.5 12-5 6-2 6-1z"/>
<path fill="#e0d377" d="M296 332l7 0 7 1.5 16.5 6.5 6.5 3 9 6 10 8 6 6.5 5 7.5 3 5 2 5.5 10 38 6 31.5 1 27-237.5 0 1-28 5.5-22 2-18 9.5-19 6.5-18 4.5-6 26.5-22.5 10.5-5.5 10.5-4.5 6-1 7-0.5 24 2 11 0 8-0.5 16-2.5z"/>
<path fill="#ebc970" d="M298 335l5 0 7 2 14 6 8 4.5 9 6.5 8 7 6 6.5 5 7.5 3 6 3 8 7 21.5 4 15.5 5 26 1.5 26-234 0 1-27 5.5-22 2.5-18 9-18 7.5-18 5-6 26-22 10-6 8-3.5 5-1 6 0 24 2.5 11 0.5 10-1 18-3.5z"/>
<path fill="#f5bf69" d="M296 339l5-0.5 6 1.5 9 4 10.5 6 9.5 7 9 8 5 6 5 7 5 9 5 11.5 5 13 4 13 4 16.5 2 11 1 11 0.5 15-230 0 1.5-27 5-22 3-16 2-4 8-15 7-15 3-4 3.5-4 24.5-21 9-6 7-3 8-0.5 23 3.5 13 0.5 11-1.5 16-4z"/>
<path fill="#ffb462" d="M297.5 344l4.5 0 6 2 9 5 8 6 9 8 8 8 7 8.5 6 9 6 11 5 10.5 4 10 3 10.5 3 12 2 11 1 10.5 0.5 12-225.5 0 0.5-14 1-12 9-36 17.5-32 4.5-6 5.5-6 21.5-19 7.5-5 5-2 6-0.5 22 4 16 1 12-1.5 15.5-5z"/>
<path fill="#ffa95a" d="M293.5 354l5.5-0.5 5 0.5 5 2 6 4.5 12 9.5 11 10.5 9 9.5 7 9.5 9 16.5 4 9 3 9.5 5 23.5 1.5 10 0 10-219.5 0 0.5-12 1.5-12 5-20.5 4-13.5 8-15 8-13 6-7.5 8-8 19-16.5 5-3 5-2.5 6-0.5 20 2.5 17 0.5 12-1 11.5-2z"/>
<path fill="#ff9c53" d="M234.5 365l15.5-1 39 0 9 1 7 2 7 3 9 6 9 6.5 10 9 8 9 7 10 6 11.5 5.5 14 4 17 2.5 13 0.5 12-213 0 0.5-9 1-9.5 6-25 5-13.5 9-16 5-6.5 6-7 13-11.5 9-6.5 7-4 6-3 6.5-1.5z"/>
<path fill="#ff8f4b" d="M252.5 373l30.5 0 9 1 8 1.5 8 3 9 4.5 9 6 9 7 7 7 7 8.5 6 9.5 5 10 4 12 3.5 14 1.5 11 0.5 10-204.5 0 0-9 1.5-9 3.5-16 3-10 3-7.5 4-7.5 5-8 5-6.5 6-6.5 7-6 8-6 9-5 8-3.5 7-2 8-1.5 9.5-1z"/>
<path fill="#ff8243" d="M247.5 386l13.5-0.5 16 0 11 0.5 9 1.5 9 2.5 8 3 9 5 8 5.5 7 6.5 7 7.5 5 7.5 5 9.5 4 10 3.5 13.5 2 10 0.5 10-195.5 0 0.5-8 1.5-9 2.5-11.5 3-9.5 6-13.5 4-6.5 5-6.5 5-5 6-5.5 6-4 7-4 7-3 8-3 8-2 8.5-1z"/>
<path fill="#ff743c" d="M261 410l13 0 7 0.5 7 1.5 7 2.5 7 3 22 12.5 5 1 8-1 3 1 3 2.5 4 5 6 11.5 4 14 1.5 7 0.5 7-183 0 1.5-12 3.5-13.5 3-7.5 3-5.5 3-4.5 3-3 2-1.5 2-0.5 10 1.5 5-0.5 4-2 16-9.5 8-4 11-3.5 10-2z"/>
<path fill="#ff6534" d="M260 415l13-0.5 13 2.5 12 4.5 6 3.5 6 4.5 9 9.5 4.5 6 3 6 5 13 2.5 14-129 0 1.5-12 3-11 5-10 6.5-9 8.5-8 9.5-6 10-4.5 11-2.5z"/>
<path fill="#ff562c" d="M259.5 419l12.5-0.5 6 0.5 7 1.5 6 2 6 3 5.5 3.5 5 4 4.5 4.5 4 5 3.5 5.5 2.5 6 2 6 1.5 6 0 6 0 6-113 0 0-10 1.5-10 4.5-10 5.5-8.5 7-7.5 8.5-6 9.5-4.5 10.5-2.5z"/>
<path fill="#ff4724" d="M265.5 424l11.5 0.5 10 2.5 10 5 8.5 7 6.5 8 5 9.5 2.5 10.5 0 11-101 0-0.5-9 2-10.5 4-9 6-8.5 7-6.5 9-5.5 10-3.5 9.5-1.5z"/>
<path fill="#ff381c" d="M261 432l10-0.5 10 1.5 9.5 4 8 6 6 7 4.5 9 2 9-0.5 10-83 0-0.5-8 1-8 2.5-7 4-7 5.5-6 6-4.5 7-3 8-2.5z"/>
<path fill="#ff2814" d="M261.5 439l8.5-0.5 8 1 8 3 7 5.5 5 6 4 8 1 8-0.5 8-67 0-1-6 0.5-7 2-6 3-6 4-4.5 5-4 6-3.5 6.5-2z"/>
<path fill="#ff180c" d="M266.5 445l6.5 0 6 2 6 3 4.5 4 3.5 5 2 6 1 7-1.5 6-51.5 0-1-5 0-6 1.5-6 3-5 3.5-4 5-3.5 5-2 6.5-1.5z"/>
<path fill="#ff0804" d="M263.5 452l5.5-0.5 6 1 5 2 4 3.5 3.5 5 1 5 0 5-1 5-37 0-1.5-4-0.5-4 1-4 1.5-4 2-3.5 3-3 4-2 3.5-1.5z"/>
<path fill="url(#tex)" fill-opacity="0.15" fill-rule="evenodd" d="M157.5 262l85.5 0 3 20 2 5 2 2 4 2 4 1 4 0 5-0.5 4-1 3-1.5 2-2 1.5-4 4.5-21 82.5 0 11 21 8.5 15 1 6-1.5 12 0.5 6 13 32 4.5 17 4 26 2 21 0.5 14-0.5 18 1.5 17 0 11-293.5 0 0.5-30 4-25 1.5-14 4-18 0.5-21 2-14 1.5-16 5.5-18 5.5-10 4-11 7-16 6-23zM233 327l10-0.5 28 2 27-2 10 1 21.5 6.5 9.5 4 9.5 6 11.5 9.5 4.5 5.5 4.5 6 3.5 6 1.5 5.5 7 33.5 3 20 3 18 1 30-245 0 0.5-12 1.5-16 5.5-25 2-16 9-21 4-15 2.5-5 3-4 4-4 25-20.5 7-3.5 12-5 8-2.5 6-1.5z"/>
<path fill="none" stroke="#262626" stroke-opacity="0.65" stroke-width="1.0" stroke-dasharray="2.6 1.4" d="M254 478l-1.5-4-0.5-4 0.5-4 2-4 2.5-3 4-2.5 4-1.5 4-0.5 4 0.5 4 1.5 3.5 2.5 2.5 3 2 4 0.5 4-0.5 4-1.5 4M250.5 478l-1.5-4 0-5 1-5 2-4 3-3.5 4-2.5 5-2 5-0.5 5 0.5 4 1.5 4 2.5 3.5 4 2 4 1.5 5-0.5 5-1 4M246.5 478l-1-5 0-6 1.5-5 3-5 4-4 4-2.5 5-1.5 6-1 6 1 5 2 4.5 3 3.5 3.5 2.5 4.5 1.5 5 0 6-1 5M243 478l-1-6 0-6 2-6 3.5-5 4.5-4.5 5-3 6-2 6-0.5 6 0.5 6 2 5 3.5 4.5 4 3 5 2 6 0.5 6-1.5 6M239 478l-1-6 1-7 2-6 3.5-6 4.5-4.5 6-4 7-2 7-1 7 1 6 2 6 3.5 5 5 4 6 2 6 0.5 7-1 6M235.5 478l-1-7 1-7 2.5-7 4-6.5 6-5.5 6-3.5 7-2.5 8-1 8 1 7 2.5 7 4.5 5 5 4 6 2.5 7 0.5 7-0.5 7M231.5 478l-0.5-8 1-8 2.5-7 5-7 6.5-6 7-4 8-2.5 8-0.5 8 0.5 8 3 7 4 6 5.5 5 7 2.5 7 1.5 8-1 8M227.5 478l-0.5-9 1-8 3.5-8 5.5-8 7-6 7-4 9-3 9-0.5 9 1 9 3 8 4.5 6 5.5 5 7.5 3.5 8 1.5 8-0.5 9M223 478l-0.5-10 2-9 3.5-8 6-8 7-6.5 9-5 9-3 10-1 10 1.5 9 2.5 9 5.5 7 6 5.5 8 3.5 8 2 9 0 10M218.5 478l-0.5-10 2-10 4.5-9 6.5-9 8-7 9-5 10-3 11-1 11 1 10 3.5 9 5 8 7 7 9.5 4 9 1.5 10 0 9M215 478l0-11 2-10 4.5-10 7-9 8-7 10.5-6 10-3 12-1.5 11 1 10.5 3.5 10.5 6 8.5 7 6.5 9 4.5 10 2.5 11-0.5 10M212.5 478l0-11 2.5-11 5-11 7-9 9-7.5 10-5.5 11-3.5 12-1 12 1 11 3.5 10 5.5 9 8 7 9 5 10.5 2.5 11 0 11M209.5 478l0-11 3-12 5.5-11 7-9 9.5-8 10.5-6 12-3.5 12-1 12 1 12 4 10.5 5.5 9 8 7 9 5.5 11 3 12 0.5 11M205 478l1.5-13 4-12 6-11 7.5-9 9-7.5 11-6 12-4 13-1 12 1 12 3.5 10 5.5 10 8 8.5 9.5 6 11 4 11 2.5 14M181 478l2-11 2-4.5 2-3 2-1 9-0.5 3-1 3-3 12.5-17 5.5-6 6-5 10-6 10-4.5 10-2.5 11-0.5 11 0.5 10 2.5 11 5 9 6 9.5 8.5 14.5 17 4 1.5 7 0 2 1.5 3 4.5 2 5 1.5 6.5 1 7M176 478l1.5-14 4.5-14 3-7 3-5 3-4 3-2.5 3-1.5 10 1.5 5-0.5 4-2 16-9.5 11-5 13-4 13-1 13 1.5 13 3.5 11 5 14 8.5 5 2.5 5 0.5 7-1 4 1.5 6 7 6 11.5 4 14 1.5 7 0.5 7M172.5 478l0.5-9 1.5-9 3.5-12 3-8.5 4-8 4-6.5 5-6 6-5.5 7-4.5 8-3 18 0 24-2.5 12-0.5 12 0.5 22 2.5 16 0.5 8 3 8 5 6 6 5 6 4 6.5 4 8 3 8 3 11 1.5 9 0.5 9M169.5 478l0.5-9 1.5-9 3.5-13 3-10 4-8.5 4-7 6-8 6-6 7-6 7-4.5 8.5-4 8.5-3.5 8-2 9-1.5 23-1 21 1.5 9 1.5 7 2 8 3 9 5 7 5 7 6 6 6 6 8.5 4 6.5 4 9 3 9 3 12 1.5 9 0.5 9M167 478l0.5-9 1.5-10 3.5-14 3.5-11 3.5-8 4.5-8 6-8 6-6.5 7-6.5 8-5.5 8-4.5 9.5-4 7.5-2.5 9-1.5 22-1 22 1 9 1.5 7.5 2.5 8.5 3.5 9 5.5 8 5.5 7 6.5 6 6.5 6 8 5 8.5 4 9 3.5 10 3 13 1.5 10 0.5 9M165 478l0-9 1.5-10 4-16 3.5-11.5 3.5-8.5 4.5-7.5 6-8.5 6-7 7-6.5 8-6 9-5.5 9-4 8-2.5 8-1.5 9.5-1 12.5 0 24 0.5 8 1.5 7 2 9 4 9 5 9 6.5 8 7.5 7 7.5 6 8.5 5 9 3.5 8 3.5 10 3.5 15 1.5 10 0.5 10M162.5 478l0.5-10 1-9 4-17 4-12 3-8 4.5-8 5.5-8 6-7.5 7-7 8-7 10-6.5 9-4.5 7-2.5 7-1.5 9-1 11-0.5 30 0.5 7 1 7 2 9 4 9 5 9 6.5 9 8 7 8 6 8 5.5 9 4.5 10 4 12 3.5 15 1.5 10 0.5 11M160.5 478l0.5-10 1-9 4-17.5 3.5-11.5 2.5-7 3.5-7 6-10 5.5-8 7-7.5 8-7.5 10-7.5 10-6 6-3 6-1.5 7-0.5 10-0.5 40 0 6 0.5 5 1.5 7 2.5 9 5.5 10 7 9 8 8 8 7 9 6 10 5 10.5 4.5 12.5 3.5 16 2 12 0.5 11M158.5 478l0.5-11 1.5-11 5-20 4.5-14.5 7-13 7-11 7-9 9-8.5 19-15 6-3.5 5-1.5 9-0.5 32 1 24-1.5 6 0.5 5 2 6 3 9 6 10 8.5 9 8 7 8 6 8 9 15.5 3.5 8.5 3 9 5 23 1.5 10 0 9M157 478l0.5-12 1.5-12 6-24.5 4-11.5 9-16.5 8-12 7-8 10-9.5 16-13.5 5-2.5 4-1.5 6 0 19 2 17 0.5 12-1 17-2.5 5 0.5 6 3 7 5 9 7 10 9.5 8 8 6 7.5 6 8.5 8.5 16.5 6 18 5 22 1 19M155 478l1-14 1-11 7.5-29 2.5-8 11-19.5 8-12.5 7-8 16.5-15 10.5-8.5 4-2 4-1 6 0 20 3.5 16 0.5 12-1 14-4 4-0.5 5 1 6 2.5 7.5 5.5 8.5 7 10 9.5 7 8 7 8.5 6 9.5 9 17.5 6 18 5 23 1 20M154 478l0.5-14 1-12 9-36 17.5-32 5-7 6.5-6 20-18 7.5-5 5-2 6-0.5 22 4 16 1 12-1.5 14-4.5 4-1 5 1 7 3.5 7.5 5 9 7 14.5 14 7 9 6 9 5 9.5 5 10.5 4 10 3 10.5 3 12 2 11 1 10.5 0.5 12M152.5 478l0.5-13 1-13 9-38 17-33 4-5 4-4.5 22-19.5 9-6 6-2.5 7-0.5 23 3.5 15 0.5 11-1 14-4.5 5-1 6 1.5 6.5 3 8.5 5 8.5 6 9 8 6.5 6.5 6 7.5 5 8 5 9.5 6 13.5 4 11 3 10 3 12.5 2 11 1 11.5 0.5 13M151.5 478l1.5-27 5-22 3-16 2-4 8-15 7-15 3-4 3.5-4 24.5-21 9-6 7-3 8-0.5 23 3.5 13 0.5 11-1.5 15-4 5-0.5 5 1 7 2.5 9.5 5 9 6 9 7 7.5 7 5 6.5 5 7.5 4 8 7 17 4 11.5 3 10.5 5 24.5 1 11.5 0.5 14M150.5 478l1-27 5.5-23 2.5-16 1.5-3.5 8.5-15.5 7-16 2.5-4 3-3 25-21.5 9-5.5 9-4 9-0.5 23 3 13 0.5 9-1 16-4 5-0.5 6 1 6.5 2.5 10.5 5 8.5 5 9 7 7.5 7 5 5.5 5 7.5 4 8 6 15.5 5 15 3 11.5 5 25 1 12 0.5 14M149.5 478l1-27 5.5-22 2.5-18 9-18 7.5-18 5-6 26-22 10-6 8-3.5 5-1 6 0 24 2.5 11 0.5 9-1 15-3 5-0.5 6 0.5 7 2.5 13 5.5 8 4.5 9.5 7 7.5 7 5 5.5 5 7.5 3 6 3 8 7 21.5 4 15.5 5 26 1.5 26M148.5 478l0.5-27 6-23 2-17.5 9.5-18.5 7-18 2.5-4 3-3 25-21 10.5-6 9.5-4 6-1 6-0.5 24 2.5 11 0 8-0.5 20-3 6 0.5 7 2 14.5 6 7.5 4 9.5 7 8 7 5.5 6 5 7.5 2.5 5.5 2.5 6.5 8 26.5 3 13 5 27 1 26M147.5 478l1-28 5.5-22 2-18 9.5-19 6.5-18 2-3 3-3.5 26-22 10.5-5.5 10.5-4.5 6-1 7-0.5 24 2 11 0 27-3 6 0.5 8 2 16 6.5 7 4 9 6 9 8 5 6 5 7.5 4 9.5 10 37.5 6 31.5 1 27M146.5 478l1-28 5.5-23 2-17 9.5-20 6-18 2-3 3.5-4 26.5-22 12-6 10.5-4 6-1 7-0.5 25 1.5 10 0 26-2.5 6.5 0.5 7.5 2 16 6 8 4 9 6.5 9 7.5 6 7 5 7.5 2.5 4.5 1.5 5 9 37 5.5 32 1 28M145.5 478l0-11 1-17 5.5-24 2-16.5 9.5-20.5 5.5-17 2.5-4 3.5-4 26-22 10-5 14-5.5 7-1.5 7-0.5 25 2 10 0 25-2.5 7 0.5 8 2.5 17 6 8 4 8.5 6 9.5 8 5.5 6 4.5 7 2 4 2 5 8.5 36 6 36 1 28M144.5 478l0-12 1-16 5.5-24 2-17 9.5-20 5.5-18 2.5-4 3.5-4 27-22.5 11.5-5.5 13.5-5 6-1.5 6-0.5 34 2 27-2.5 7 1 9 2 17 6 8.5 4.5 9 6 9 8 5.5 6 5 7.5 3.5 8.5 8 36 6 37 0.5 28M143 478l0.5-12 1.5-16 5.5-25 2-16 9-21 5-17 2.5-4.5 4-4.5 27-22.5 10-5 17-6 6-1.5 6-0.5 33 2 27-2 7 0.5 9 2 18 6.5 9 4 8 5.5 9.5 8 5.5 6.5 5 7.5 2.5 4 1.5 5 7.5 36 2 17 4 21 0.5 28M142 478l0-13 2-16 6-25 1.5-15 2-5 7-17 4.5-15 2-5 3-4 5-4.5 21-17.5 5-3.5 8-4 17-6 7-2 8-0.5 31 1.5 28-1.5 10 1.5 22 7 9 3.5 9 6 12 10 5 6 4 6 3 6 1.5 5 2.5 15 4.5 19 2.5 20 3 18.5 0.5 29.5M141 478l0-9 1-10 2.5-16 4.5-21 2-13 2-6.5 7-16.5 4-15 2.5-5 3.5-4.5 4-4 21-17.5 5-3.5 8-3.5 19-7.5 7-1.5 7-0.5 31 2 28-1.5 11 1.5 24 7 8 3.5 8 5 12 11 4.5 5 4.5 7 3 6 1.5 5 3 16 4 19 2 20 3.5 19 0.5 29M140 478l0-9 0.5-9 3.5-19 4.5-20 1.5-12 2-6 7.5-19 3.5-14 2.5-5 3.5-4.5 4.5-4.5 20.5-17 5-3.5 7.5-3.5 20.5-8 6-1.5 7-0.5 33 2 27-1.5 11 1.5 26 7.5 6.5 2.5 7.5 5 12.5 11 4.5 5.5 5 7.5 3 6 1.5 5 3 16 4.5 20 1.5 20 3 19 0.5 29M139 478l0-9 0.5-9 2-9 1.5-11 4.5-19 2-13 2.5-7.5 7-17.5 3-13 3-6 4-5 4-4 20-16.5 6-4 7-3.5 22-8.5 6-1.5 6-0.5 32 2 29-1 11 1.5 26 7 6 2 8 5.5 12 10.5 4 5 5 7.5 4 7.5 1.5 5 3 16 4.5 21 1.5 20 3 19 0.5 29M138 478l-0.5-9 1-9 2.5-10 1-10 5-19.5 2-12.5 2.5-9 7-18 2.5-11 3.5-7 3.5-5 4-4 20-16.5 6-4 6-3 24-9.5 5-1.5 6-0.5 33 2 29-1 12 2 26 6.5 6 2 7 4.5 13 12 4 5 4 6 4.5 9 2 5 3 17 4.5 22 1.5 19 3 20 0 28M137 478l-0.5-9 1-9 2.5-10 1-11 5.5-19 2.5-14 2.5-9 6-16 3-12 3.5-7.5 3.5-4.5 4.5-4.5 20-16.5 6-4 6-3 12-4.5 12-5.5 5-1 5-0.5 34 2.5 29-1 13 2 15 4 11 1.5 6 2 7 5 12 11 4 5 4 6 5.5 10.5 2 6 3 17 4.5 21 1 20 3 20 0 28M136 478l0-16 3-12 1.5-12 5.5-19 2-12.5 2-8 7-18.5 3-12 3.5-8 3.5-4.5 4.5-4.5 19.5-15.5 6-4 7-4 13-4.5 11-5.5 4-1 5-0.5 34 2.5 32-0.5 11 1.5 16 4 11 1.5 6 2 5 3 13 12.5 4 4.5 4 6.5 6 11.5 2 6 8 39.5 1 19.5 3 20 0 28M135 478l0-17 2.5-11 2-12 6-20 4-21 7-18 3-12 3.5-8 3.5-5 4.5-4 19-15.5 7-4.5 7-3.5 12-4.5 11-6 4-1 5-0.5 32 2.5 14 0.5 18-0.5 10 0.5 19 4 10 1 5 0.5 7 3.5 6 5 10 11 4 5.5 7 12.5 4 9.5 8 41 1 19 2.5 20 0 28M134 478l0.5-18 4-22 6.5-21.5 4.5-21.5 6-17 3.5-12.5 4-8.5 3-4 4-4 26-20 7-4 12-4 12-6.5 4-1.5 4 0 32 3 37 0 12 1.5 14 2.5 12 0 4 1 4 2 7 6 11 12.5 4 5.5 7 13.5 3.5 9.5 8 40 1 21 2.5 19 0 28M133 478l0.5-19 4-21 7-23 2.5-14 1.5-7 6.5-17 4-14 3-6.5 3-4.5 4-4 27-21 7-3.5 12-4 11-7 3-1 4-0.5 30 3.5 17 0.5 22-0.5 28 3 12 0 7 2 7 5.5 13 15.5 4 5.5 7 14.5 3.5 9.5 8 40 1 21 2.5 19 0 28M132 478l0.5-21 3.5-18 2.5-9 6-16 2-14 1.5-7 6.5-17 4-15 3-6 3.5-5 4-3.5 27-21 7-4 11-3.5 11-7.5 3-1 4-0.5 18 3 15 1.5 37 0 26 1.5 14-1 3 0.5 4 2 7 5.5 17.5 23 6.5 13.5 4 11 8.5 40.5 0.5 21 2.5 19 0 28M131 478l0.5-22 3-15 3-11 6.5-17 2-14 1.5-7 6.5-16.5 3.5-14.5 3-7 3.5-5 4-4 28-21.5 6-3.5 11-4.5 10-7 3-1 4-0.5 20 4 22 1.5 51 0.5 6-0.5 8-2 4-0.5 3 0.5 4 2 4 2.5 4 4 4 4.5 14.5 20.5 6.5 14.5 3.5 10.5 8.5 41 1 21 2 19 0 28M130 478l0.5-21 1-8 5-18 7-18 1.5-15 2-7 6.5-17 3.5-14 3-7.5 3-4.5 4-4 29-22.5 6-4 9.5-4.5 9.5-7 3-1 4-0.5 5 0.5 11 4 7 1 12 1 24 0.5 26 0 8-0.5 6-1 10-4.5 3-0.5 3 1 4 2 8 6.5 5 6 15 22.5 7 15.5 3 9.5 9 42 0.5 21 2 19 0 28M129 478l0.5-22 0.5-6 6-21 7-17 1.5-14 1.5-7 2-6 5.5-12 2.5-13 2-6 3.5-6 5.5-6 16-12 15-12.5 10.5-7.5 7.5-6 5-2 4-0.5 5 0.5 13 5.5 9 2 11 0.5 30 0.5 19-0.5 8.5-1 5.5-2 9-6 4-1 4 1 6 4.5 6 5.5 5 6 8.5 14 7.5 11.5 9 21.5 3.5 15 6 31 1 21 1.5 19 0 28M128.5 478l0-23 0.5-6 6.5-21 6.5-16 1.5-14 1-6 2.5-7 6-13 2-13 2-7 3-5 4-4.5 22.5-17.5 21-22 6.5-4 4-1 4-0.5 4 1 5 1.5 13 6.5 8 2 35 1 21-0.5 7-1 6-1.5 4-2.5 8-6.5 2-1 3-0.5 4 1 5 3 7 6 5 6 4 6.5 7 12.5 7 11 8 20.5 4 16.5 6.5 31 0.5 21 2 19 0 28M127.5 478l0-24 0.5-5 7-23 7-15 0.5-12 1-7 2.5-8 6.5-13 1.5-13 2-7 3-5 4-5 19-14.5 6.5-6.5 6-8 5-11 2.5-3 3-2 5-2 5-1 4 0 8 2.5 7 4 7 4.5 8 3 11 1 36 0.5 14-1 7-2 6-3.5 8-9 2-1 3-0.5 5 1.5 6 3.5 7 6.5 6 7 4 6.5 6.5 13.5 7.5 12 7.5 19 4.5 19 6 30 1 21 1.5 19 0 28M127 478l-0.5-25 0.5-4 7.5-24 6.5-14 0.5-13 1.5-7 2.5-8 6-12 1-13 2-7 3-6 4.5-5.5 5-4.5 14-10 5.5-6 4-7 3.5-14 3-4.5 3.5-2.5 4.5-1.5 7-1 5 0 4 1 3 1.5 17 11.5 7 3 11 1.5 36 0.5 14-1.5 7-2 3-2 2.5-3 6.5-11.5 2-1.5 2 0 6 2 8 4.5 8 7 6 7 4 6.5 7.5 16 7 12 7 18 5 20 6 30 1 23 1.5 18 0 28M126 478l0-29 8-25 6.5-14 0-11 1.5-8 2.5-9 6.5-12 0.5-12 1.5-8 3-6 5-6.5 6-5 13-9 4-4.5 2-4 1-4 1.5-16 1-3 2.5-3 3-2.5 5-1.5 9-1 8 0 3 0.5 3 1.5 17 14.5 4 2.5 4 1.5 6 1 7 0.5 27 0.5 10-0.5 13-2 4-2 2-2 3-4 1-4 1-14 1-2 2-1 2 0.5 3 2 17 13 8 7 6 7 4 6.5 7.5 18 7 12 5.5 14.5 3 8.5 3.5 14 5.5 31 2.5 41 0 28M125.5 478l-0.5-29 8-26 2.5-5 4.5-8 0-11 1-8 3-10 6-11 0-13 2-8 3-7 5-6.5 7-6 12-8.5 2-2.5 1.5-3.5 0.5-4-1-12 0-5 2-5 3-4.5 4-3 6-2 21 0 3 1 3 2 8.5 9.5 5 5 5 4 4.5 2 5 1.5 7 0.5 28 0.5 8-0.5 14-2.5 3.5-1.5 2-2 2-4 1-4-2-13 0.5-4 1-2 2-2 4-1 4.5 1 4.5 3 23.5 22 6.5 7.5 4 7 7 18.5 7 12 5 13 3.5 10 3.5 15 6 31 2 41 0 28M124.5 478l0-30 8.5-27 6-11 0-11 0.5-8 3-10 6-11 0-13 1.5-8 3-7.5 5-7 6-6 10.5-8.5 2.5-3 1-5-2-11 0-6 2.5-8 4.5-6.5 5-4 6-2 5-0.5 10 1 10 0 3 1 3 2.5 7.5 11.5 5.5 6 5 4 4 2 5 1.5 7 0.5 34 0 14.5-3 2.5-1 2-2 1.5-3 0.5-4-3.5-14 0.5-5 1-3 3-2.5 3-1.5 4-0.5 6 1.5 5 3.5 11.5 12.5 13.5 13 5 5.5 4 7.5 6.5 19 8.5 16 7.5 22 4 17 5 25 2 43 0.5 28M327 262l5 3 4 3.5 11.5 13.5 14 14 4.5 6 3 6.5 5.5 17.5 7 14 6.5 17 6 23 5 29 2 41 0.5 28M124 478l0-30 8-28 5.5-11 0.5-12 1.5-11 2.5-7.5 5.5-9.5-0.5-13 1.5-8 2.5-7 3.5-6 13.5-15 3-4 0.5-4-1-10 1-7 3.5-10 3-5.5 2.5-3.5 5.5-4.5 7-2 6 0 21 1 3 1 3 2.5 2 3 4.5 10 3.5 5 5 5.5 5.5 3.5 5.5 1.5 6 1 33-0.5 6-1 6.5-2 4-2 1.5-2 1-3 0-3-4-13 0-5 0.5-3 2-3 2.5-2 3-2M333 262l5 5 10.5 13 14.5 15 4.5 6 2.5 6 5 18 7.5 15 7 19 5 21 5.5 29 1.5 41 0.5 28M123.5 478l0-31 8-29 5-10 0.5-13 2-11 2-7 4.5-9 0-13 1.5-8 2-6 2.5-5 10-14 2.5-5 1.5-5 0.5-11 2-7 5-13 3-5 3-4 3-3 3-1.5 7-2.5 8 0 20 1.5 4 1.5 4 3.5 2.5 4.5 3 9 2.5 5 5 6 5 3.5 5 2 7 1 31-0.5 6-1 5-2 3.5-2 2-3 0.5-5-4-11-0.5-5 0.5-3 1-3 4.5-5M216.5 262l4.5 1 3 1 5 4.5 3 5.5 4.5 14 2.5 4 4 4.5 4 2.5 4 1.5 5 1 8 0.5 26-1 5-2 4.5-3 2-3 0.5-3-4-13 0-5 1.5-5 3.5-5M336.5 262l4.5 5 10 13 13.5 14 5 7 2 5 4.5 19 7 15 7.5 20 5 21 5 28 1.5 41 0.5 28M122.5 478l0-31 8.5-31 3.5-9 3.5-24.5 1.5-6.5 3.5-9 1-14 1.5-9 4.5-10 7-11 2.5-5 1-4 2.5-15 5-13.5 4-8.5 3.5-6 3.5-4 4-3 5-2M226 262l4 4 2.5 4 2 5 2.5 12 2.5 4 2.5 3 4 3.5 4 2 5 1 8 0.5 24-1 4-1 4.5-3 2-3 0.5-3-0.5-4-2.5-8 0-5 1-5 3-6M340 262l12.5 17 13.5 14 5 7 2 6 2 12 1.5 6 7.5 16 7.5 21 5 20 4.5 28 2 69M122 478l0-31 8.5-35 3-8 4-27 3.5-13 1.5-13 1-7 4.5-11 7.5-14 1.5-5 3-14 9-23 5-9.5 3-3 3-2.5M230 262l2 3 3 6 1 4 2 11 2 4 2 3 4 3.5 5 2.5 5 1 7 0 21-1 5-1.5 3.5-2.5 2-3 0-3-2-11-0.5-5 2-6 2.5-5M343 262l10.5 16 13.5 14 5.5 8 1.5 5 1.5 12 2 7 7.5 17 7.5 21 4.5 19 4.5 28 2 69M121.5 478l0-31 5.5-22 2-14 3-6 1-4 3.5-29 3-10 2.5-19 4-11 7-13 5-19 9-24 4-8.5 4.5-5.5M232.5 262l2.5 5 2 6 2 13 3.5 6 3.5 3.5 5 2.5 5 1 7 0.5 11-0.5 8-1 5-1.5 3-2.5 1.5-3 0-3-1.5-10-0.5-4 1.5-6 3-6M345.5 262l9.5 15 13 14 6 8.5 1.5 4.5 1 13 1.5 7 8 17 7.5 22 4.5 19 4 27 1 15 1 54M120.5 478l0-31 5.5-23 2-14 3-6 1-5 2-15 1-14 2.5-9 3-19 3.5-11 7-13 4.5-17 10.5-28 3-6.5 3-4.5M234.5 262l4 12 1.5 11 3 6 4 4 4 2 5 1 6 0.5 10-0.5 7.5-1 4.5-1.5 3.5-2.5 1-2 0.5-3-1.5-10 0.5-4 1-5 2.5-7M348 262l9 15 12 12.5 6.5 9.5 1.5 5 0.5 12 1.5 7 8 19 5 14 3 9 4 19 4 26 1.5 68M120 478l0-30 5.5-24 1.5-14 3-8 1.5-5 1.5-13 0.5-14 3-11 2.5-18 3.5-11 6.5-13 4-14 6.5-16 5.5-16.5 4.5-8.5M236 262l4 12 1 11 2.5 5 3.5 3.5 4 2.5 5 1 6 0.5 9-0.5 7-1 4-1.5 3-2.5 1-2 0.5-3-0.5-13 4-12M350.5 262l8 14 11.5 12.5 4 5.5 3 5 1 5 0.5 12 1 7 12 29 5 16 4 21 3 21 1 15 1 53M119.5 478l0-30 5-24 1.5-14 3.5-9 1-6 1.5-11 0.5-14 2.5-12 2-17 3.5-11 6.5-14 4.5-14 7-16 5.5-17 3-7M237.5 262l3.5 12 1 10 1 3 1.5 3 3 3 3.5 2 5 1.5 6 0 8 0 6-1 4-1.5 3-3 1.5-5 0-12 3.5-12M353 262l7 13 11 12.5 5 7 2.5 4.5 1 4 0 13 1 7 12 30 5 17 4.5 23.5 2 17.5 1 15 0 23 1 19 0 10M118.5 478l0-30 5-24 1.5-14 3.5-10 1-6 1.5-10 0-14 3-13 1.5-16 3.5-12 7-14 4-13 6-14 6-18.5 3-7.5M238.5 262l3 12 1.5 10 2 5 3 3 4 2.5 4 1 6 0.5 7-0.5 6-1 4-2 2.5-2.5 1.5-5 0-10 4-13M355 262l7 13 9 10.5 6 8.5 2.5 5 1 4-0.5 13 1 7 12.5 30 5 17 4.5 25 2 17 0.5 16 0 22 1 19 0 9M118 478l0-30 5-24 1.5-14 3-11 1.5-6 0.5-9 0.5-14 2.5-13 2-16 4.5-15 5.5-12 4.5-12.5 6.5-14.5 5.5-19 2.5-6M240 262l2.5 12 1 9 2 5 2.5 3 4 2.5 4 1 6 0.5 7-0.5 5-1 4-2 2-2.5 1.5-4 0.5-11 3.5-12M357.5 262l5.5 11 9 11.5 6.5 9.5 2.5 5 0.5 5-0.5 13 1 6 12 30 5.5 18 4 25 2 18 0.5 16 0 20 1 17 0 11M117.5 478l0-30 4.5-24 2-15 4-16 0.5-9 0.5-14 2.5-14 1.5-15.5 5-16 5.5-11.5 4.5-12 6.5-15 7-24M241 262l2 11 1.5 10 2 5 2.5 2.5 4 2.5 4 1 5 0 10-1 4-2 2-2 2-4 1-11 3-12M359.5 262l5.5 10 7 10 9.5 16 1.5 5-1 13 1 7 12.5 31 4.5 17 4.5 26 1.5 18 1 15-0.5 20 1 17 0 11M116.5 478l0.5-30 4.5-24 1.5-15 4-17 1-8 0-14 2.5-14 1.5-16 5-16.5 5-10.5 4.5-12 7-15 7-24M242 262l3 20 2 5 3 3 3 2 4 1 5 0 9-1 4-2 2-2 2-4 1-10 3-12M362 262l5.5 10 15.5 26 1 6-1 12 0.5 6 12.5 32 5 17 4 26 2 20 0.5 14-0.5 19 1.5 17-0.5 11M116 478l0.5-30 4-24 2-15 3.5-17 1-8 0-14 2-14 1.5-16 5.5-17.5 5.5-10.5 4-11 7-15 6.5-24M243 262l3 20 2 5 2 2 4 2 4 1 4 0 5-0.5 4-1 3-1.5 2-2 1.5-4 4.5-21M364.5 262l11 21 8.5 15 1 6-1.5 12 0.5 6 13 32 4.5 17 4 26 2 21 0.5 14-0.5 18 1.5 17 0 11M115.5 478l0.5-30 4-25 1.5-14 4-18 0.5-21 2-14 1.5-16 5.5-18 5.5-10 4-11 7-16 6-23M243.5 262l3.5 19 1.5 5 2.5 2.5 3 1.5 7 1 4 0 4.5-1 3.5-2 2-2 2-5 4-19M367 262l9.5 21 6.5 11 2.5 5 0.5 5-1.5 12 0.5 6 12 31 5.5 18 4 27 2 21 0 13-0.5 18 1.5 17 0 11M115 478l0.5-30 5.5-39 3.5-18 0.5-21 2.5-14 1-16 5.5-18 5.5-11 4-11 7.5-15 5.5-23M244.5 262l3 18 2 5 1.5 2 3 2 3 1 4 0 4 0 4-1 3-2 2-2 2-5 4-18M369 262l8.5 20 7.5 13 1.5 4 0.5 5-1.5 13 0.5 5 12 31 5 18 4 26 2 22 0.5 13-1 18 1.5 17 0 11M114.5 478l0.5-30 5-39 3.5-18 1-21 2-14 1-16 6-19 5-10 4-11 7.5-16 5.5-22M245.5 262l3 17 1.5 5 1.5 2 2.5 1.5 3 1 4 0.5 7-1 3-1.5 2-2.5 2.5-5 3.5-17M371 262l7.5 20 7 12 2 5 0.5 5-1.5 13 0 5 12.5 31 5 18 3.5 26 2 23 0.5 13-1 17 1.5 16 0 12M113.5 478l1-31 5-38 3.5-19 0.5-20 2-14 1-16 6-19 6-11 3-10 8-16 5-22M246 262l3 16 2 5 1.5 2 2.5 2 6 1 4-0.5 3-1 2.5-1.5 2-2 2.5-6 3.5-15M372.5 262l6.5 19 7.5 13 2 5 0.5 6-1.5 11 0 5 12 32 5 18 3.5 26 2 23 0.5 13-1 17 2 16-0.5 12M113 478l1-31 5-38 3-19 1-20 1.5-14 1.5-16 6-20 5.5-10 3.5-10.5 7.5-15.5 5-22M247 262l2.5 14 2 6 1.5 2 2 1.5 3 1 3 0.5 6-1 3-2 1.5-2 2.5-6 3.5-14M374 262l2 8 4 11 7.5 13 2 5 1 6-2.5 12 0 4 7 19 5.5 13 4.5 17 3.5 26 2.5 25 0 13-1 16 2 16 0 12M112.5 478l0-15 1-18 7.5-55 1-20 2-14 1-16 6-20 6-11 3.5-10 7.5-16 4.5-21M248 262l2 13 2 6 2 2.5 2 1 5 1.5 3-0.5 3-1 4-3.5 2.5-6 3-13M375.5 262l2 8 3 10 2.5 5 5.5 9 2.5 5 0.5 6-2.5 12 0 4 6.5 18 5.5 13.5 4.5 17.5 4 26 2 25 0.5 13-1.5 16 2 16 0 12M112 478l0-15 1-21 7.5-52 1-20 3-30 6-20 6-12 3.5-10 7.5-16 4-20M248.5 262l2.5 12 2 6 3 3 5 1.5 5-1 2.5-1.5 2-2 2.5-6 2.5-12M376.5 262l2 8 3 10 8 14 2.5 5 0.5 6-2.5 12 0 4 6 17 5.5 14 5 18 3.5 26 2.5 26 0 12-1 16 2 16-0.5 12M111.5 478l0-15 1-23 7-50 1-21 3-29 6.5-21 6-11 3.5-10 7.5-16 2.5-11 1.5-9M249.5 262l2 11 2 6 3.5 3.5 4 1 5-1 2-1.5 2-2.5 2.5-6.5 2.5-10M377.5 262l1.5 8 3.5 10 8 14 2.5 5 0.5 6-2.5 12 0.5 5 5.5 16 5.5 14 4.5 18 3.5 25 2.5 27 0 12-1 16 2 16 0 12M111 478l0-14 1-25 7-50 1-20 3-29 6.5-21 6-12 3.5-10 7.5-16 2-9 1.5-10M250.5 262l1.5 9.5 2 6 3 3.5 4 1 5-1 3-3 2.5-6 2.5-10M378.5 262l1.5 8 2.5 9 2.5 4.5 7 10.5 2 5 0.5 6-2 12 0 5 4.5 13.5 6.5 16.5 4 18 3.5 25 2.5 27 0.5 12-1.5 16 2 16 0 12M110 478l0-14 1.5-27 6.5-48 4-49 7-22 6-11.5 4-11 6.5-14.5 2-8 2-11M251 262l2 9.5 2 5.5 3 3 4 1 4-1.5 3-3.5 2-5 2-9M379.5 262l1.5 9 2.5 8 2.5 4.5 6.5 9.5 2.5 6 0.5 6-2 12 0 5 3.5 11 7 18.5 4.5 18.5 3 24 2.5 28 0.5 12-1 16 2 16-0.5 12M109.5 478l0-13 1.5-29 6-47 4.5-49 7-22 6-12 4.5-12 6.5-14 1.5-8 1.5-10M252 262l2 9 2 5 3 3 3 0.5 3-1 3-3 2.5-5.5 1.5-8M380.5 262l1.5 10 2.5 7 9 14 2.5 6 0.5 6-2 12 0 5 2.5 8 7.5 21 4.5 18 3.5 25 2.5 28 0 12-1 15 2 18 0 11M109 478l0-13 1.5-30 3.5-25 7-70.5 7-22.5 6-12 4.5-12 6.5-14 1.5-7 1.5-10M253 262l1.5 7 1.5 5 3 3.5 3 0.5 3-1 2.5-3 2-5 1.5-7M381 262l2 10 1.5 6 2.5 4.5 7.5 10.5 2.5 6 0.5 6-1.5 12 0 6 2.5 8 7 20 4 18 3.5 24 2.5 30 0.5 11-1 15 2 18-0.5 11M108.5 478l0-12 1.5-32 3.5-24 7-71 1.5-6 5.5-16 6.5-13 4-11.5 6.5-13.5 1.5-6 1.5-11M254 262l1 6 2 5 2 2.5 3 1 2-0.5 2.5-3 2-5 1.5-6M382 262l1.5 10 2 6 2 4 7.5 10 3 7 0.5 6-1.5 12 0 6 2 7 7 20 4 17 3.5 26 3 30 0 11-1 15 2 18 0 11M108 478l-0.5-12 1.5-16 0.5-16 3.5-24 5-57 2-14 1.5-7 5.5-16 6.5-12 4-12 6.5-14 1-5 1.5-11M255 262l1 5 2 4.5 2 2.5 2 1 2-1 2-3 3-9M383 262l1.5 10 1.5 5.5 2 3.5 8 11.5 3.5 7.5 0 5-1.5 12 0.5 6 1.5 7 6.5 19 4 17 3.5 26 3 31 0.5 11-1 15 2 18-0.5 11M107 478l0-12 1.5-16 0-17 3.5-23 5-56 2-15 2-7 5.5-17 6.5-12 4-12 6-13 1.5-5 1.5-11M256.5 262l2.5 8 1 1 2 1 2-1 1-1.5 3-7.5M383.5 262l1.5 10 1.5 5 2.5 4 8 11.5 2.5 4.5 1 4 0 5-1.5 12 0.5 5 2 7 5 15 2.5 11 4.5 25 2 15 2.5 30-0.5 23 2 18-0.5 11M106.5 478l0-12 1.5-16 0-18 3.5-22 5-56 2-15 1.5-7 6-17 6.5-12 4-13 6.5-13 2.5-15M257.5 262l2.5 5 2 1.5 2-1.5 2.5-5M384.5 262l1.5 11 1.5 4 10.5 15 2.5 5 1 4 0 5-1 12 0 5 2 7 4.5 14 2.5 11 6.5 40 2.5 32-0.5 22 2 18 0 11M106 478l-0.5-11 2-17 0-18 3.5-22 1-15 2.5-24 1.5-17 2-16 1.5-7 6-17 6.5-12 3.5-12 6.5-13 1-4 1.5-11M259.5 262l1.5 1.5 1 0.5 1 0 1.5-2M385 262l2 11 1 3.5 10 14.5 3.5 6 1 4 0 5-1 12 0.5 5 1.5 7 4.5 13 2.5 12 6 41 3 31-0.5 22 2 18-0.5 11M105 478l0-14 2-14-0.5-18 3.5-22 1-18 3-21 1.5-19 2-14 1.5-7 6-17.5 6.5-11.5 3.5-13 7-13 2-14M386 262l2.5 14 10.5 14.5 3 6 1.5 4.5-1 17 0.5 5 5.5 19 2.5 12 6.5 42 2.5 31 0 22 2 18-0.5 11M104.5 478l0-14 1.5-14-0.5-11 0.5-8 3.5-21 1-19 3-21 1-18 2.5-15 1.5-7 6-17 6.5-12 3.5-13 6.5-12 2.5-14M386.5 262l2.5 13 10.5 15 3.5 6.5 1.5 4.5-0.5 21 1.5 7 3.5 12 3 12 6 43 3 31 0 21 1.5 19 0 11M104 478l0-14 1.5-14-0.5-11 0.5-8 3-21 1-19 3-21 1.5-18 2-15 2-7 3.5-10 2.5-8 6.5-11 3-13 7-13 2-13M387.5 262l2.5 13 10 14 3 6 2 5 0 22 5 19 2.5 12 6.5 43 3 32 0 21 1.5 19 0 10M103 478l0-15 2-13-1-11 0.5-9 3.5-20 1-19 3-21 1-18 2.5-15 1.5-7 4-10 2-8 7-12 1.5-9 2-5 6.5-11 2-13M388.5 262l2.5 13 9.5 13 3.5 7 2 6 0.5 21 4.5 18 2.5 12 6 44 3 32 0.5 21 1.5 19-0.5 10M102.5 478l0-15 1.5-13-0.5-11 0.5-9 3-20 1-20 3-20 1.5-18 2.5-16 1.5-7 3.5-9 2.5-9 6.5-11 3-13 7-12 2.5-13M389.5 262l2.5 12 9.5 14 3.5 7.5 1.5 5.5 1 20 4.5 19 2 11 6.5 45 3 32 0.5 21 1.5 18-0.5 11M101.5 478l0-15 2-13-1-11 0.5-10 3.5-19 1-20 3-20 1-18 2.5-16 2-7 3.5-9 2.5-9 6.5-12 2.5-12 2-4 5.5-9 2-12M390.5 262l2.5 11 9 14 3.5 8 2 6 1 20 4.5 19 2 11 6 46 3.5 32 0.5 20 1 18 0 11M101 478l0-15 1.5-13-0.5-11 0.5-10 3-19 1-18 3-22 1-17 3-17 1.5-7 3.5-10 2.5-9 6-11 3-13 7.5-13 2.5-11M391.5 262l3 11 5.5 8.5 3.5 6.5 3 8 1.5 6 1.5 18 6 30 6.5 46 3 34 2 36 0 12M100 478l0-16 1.5-12-0.5-11 0.5-10 3-19 1-18 3-22 1.5-16 2.5-18 2-8 3-9 2.5-9 6-12 3.5-13 7-12 2.5-11M392.5 262l3 10 6 10 4 9 2.5 6 1 6 1.5 16 6 31 6 47 3.5 34 2 35 0 12M99.5 478l0-16 1.5-13-1-11 1-10 2.5-18 1-18 3-23 1.5-15 3-19 1.5-7 6-19 5-11 4-14 7-12 3-10M393.5 262l3.5 9.5 5 9 4 9.5 4 13 1.5 16 6.5 34 5.5 45 3.5 35 2 32 0 13M98.5 478l0-15 1.5-14-0.5-11 0.5-11 2.5-17 1-19 3.5-22 1-15 3.5-19 1.5-7 5-18 5.5-13 3-11 2.5-6 6-9 2.5-9M395 262l3 8 7 15 3.5 10 2.5 9 1.5 14 4.5 22 6.5 48 4 37 2.5 38 0 15M97.5 478l0.5-18 0.5-11 0-11 0.5-12 2.5-16 1.5-21 4.5-35 3-20 6.5-24.5 5.5-13.5 3-10 3.5-8 5-8 2.5-8M396.5 262l3 8 4.5 10 5.5 15 2 9 6 36 6.5 48 4.5 38 2.5 35 0 17M97 478l0.5-40 1-14 3.5-36 4.5-34 3.5-22 6-23 8-23 4-9 5.5-8 2-7M398 262l2.5 7 3.5 7.5 6 18 3 11.5 5.5 33 6.5 48 4.5 39 2 31 0.5 21M96 478l0.5-38 1-17 4-35 4-33 4-23 5.5-23 8-23 4.5-10 5-8 2.5-6"/>
</g>
<path stroke="#ff0000" stroke-width="2.4" stroke-dasharray="8.8 3.85" d="M181.1 470.4V269.9"/>
<path stroke="#000000" stroke-width="2.4" stroke-dasharray="8.8 3.85" d="M276.5 470.4V269.9"/>
<path stroke="#0000ff" stroke-width="2.4" stroke-dasharray="8.8 3.85" d="M300.6 470.4V269.9"/>
<path stroke="#008000" stroke-width="2.4" stroke-dasharray="8.8 3.85" d="M420.3 470.4V269.9"/>
<path fill="none" stroke="#ff0000" stroke-width="2.8" d="M157.6 359.9Q171.2 339.6 191.5 326.0"/>
<path fill="#ff0000" d="M198.2 321.6L191.7 331.6L190.7 326.6L186.4 323.7Z"/>
<path fill="#ff0000" d="M153.2 366.6L155.3 354.8L158.2 359.1L163.2 360.1Z"/>
<path fill="none" stroke="#ff0000" stroke-width="2.8" d="M154.9 408.0Q167.1 376.8 192.5 355.0"/>
<path fill="#ff0000" d="M198.6 349.8L193.3 360.6L191.8 355.7L187.2 353.4Z"/>
<path fill="#ff0000" d="M152.0 415.4L151.6 403.4L155.3 407.0L160.4 406.9Z"/>
<path fill="none" stroke="#ff0000" stroke-width="2.8" d="M169.4 458.8Q172.4 422.6 193.9 393.2"/>
<path fill="#ff0000" d="M198.6 386.7L195.9 398.4L193.3 394.0L188.3 392.8Z"/>
<path fill="#ff0000" d="M168.7 466.8L164.9 455.4L169.5 457.8L174.4 456.2Z"/>
<path stroke="#0000ff" stroke-width="2.8" d="M312.9 294.6H295.9"/>
<path fill="#0000ff" d="M287.9 294.6L298.4 289.9L296.4 294.6L298.4 299.4Z"/>
<path stroke="#0000ff" stroke-width="2.8" d="M288.9 356.8H305.9"/>
<path fill="#0000ff" d="M313.9 356.8L303.4 361.6L305.4 356.8L303.4 352.1Z"/>
<path stroke="#0000ff" stroke-width="2.8" d="M312.9 413.4H296.2"/>
<path fill="#0000ff" d="M288.2 413.4L298.7 408.6L296.7 413.4L298.7 418.1Z"/>
<path fill="none" stroke="#008000" stroke-width="2.8" d="M390.9 333.1C422.4 357.7 455.4 404.0 461.4 438.4"/>
<path fill="#008000" d="M463.0 447.3L456.2 436.3L461.3 437.5L465.6 434.7Z"/>
<path fill="none" stroke="#008000" stroke-width="2.8" d="M391.7 365.3C411.0 388.3 433.4 428.9 437.5 458.6"/>
<path fill="#008000" d="M438.8 467.5L432.4 456.3L437.4 457.6L441.8 455.0Z"/>
<path fill="none" stroke="#008000" stroke-width="2.8" d="M391.7 411.0C398.7 425.4 404.0 440.8 406.5 458.6"/>
<path fill="#008000" d="M407.8 467.5L401.4 456.3L406.4 457.6L410.8 455.0Z"/>
<rect x="69.2" y="269.9" width="400.7" height="200.5" fill="none" stroke="#000" stroke-width="1.9"/>
<path stroke="#000" stroke-width="1.9" d="M115.55 470.4v7M192.55 470.4v7M269.55 470.4v7M346.55 470.4v7M423.55 470.4v7M69.2 393.20h-7M69.2 316.00h-7"/>
<g font-family="Liberation Sans, sans-serif" fill="#000">
<text transform="translate(98.18 506.84) scale(0.3221 0.2911)" font-size="100" stroke="#000" stroke-width="0.98">−</text><text transform="translate(118.62 505.00) scale(0.2540 0.2657)" font-size="100" stroke="#000" stroke-width="1.15">2</text>
<text transform="translate(175.18 506.84) scale(0.3221 0.2911)" font-size="100" stroke="#000" stroke-width="0.98">−</text><text transform="translate(195.90 505.00) scale(0.2517 0.2649)" font-size="100" stroke="#000" stroke-width="1.16">1</text>
<text transform="translate(262.22 505.09) scale(0.2635 0.2671)" font-size="100" stroke="#000" stroke-width="1.13">0</text>
<text transform="translate(339.43 505.00) scale(0.2517 0.2649)" font-size="100" stroke="#000" stroke-width="1.16">1</text>
<text transform="translate(416.15 505.00) scale(0.2540 0.2657)" font-size="100" stroke="#000" stroke-width="1.15">2</text>
<text transform="translate(37.12 401.90) scale(0.2517 0.2649)" font-size="100" stroke="#000" stroke-width="1.16">1</text>
<text transform="translate(36.85 324.60) scale(0.2540 0.2657)" font-size="100" stroke="#000" stroke-width="1.15">2</text>
<text transform="translate(231.16 532.60) scale(0.3001 0.2896)" font-size="100" font-style="italic" stroke="#000" stroke-width="1.02">v</text><text transform="translate(248.26 541.70) scale(0.1763 0.2650)" font-size="100" stroke="#000" stroke-width="1.39">‖</text><text transform="translate(262.10 535.15) scale(0.2663 0.2560)" font-size="100" stroke="#000" stroke-width="1.15">/</text><text transform="translate(270.71 532.60) scale(0.3082 0.2896)" font-size="100" font-style="italic" stroke="#000" stroke-width="1.00">v</text><text transform="translate(288.96 537.40) scale(0.1825 0.2049)" font-size="100" stroke="#000" stroke-width="1.55">A</text><text transform="translate(302.39 537.60) scale(0.2152 0.2063)" font-size="100" stroke="#000" stroke-width="1.42">e</text>
<text transform="translate(18.30 413.61) rotate(-90) scale(0.2940 0.2839)" font-size="100" font-style="italic" stroke="#000" stroke-width="1.04">v</text>
<path stroke="#000" stroke-width="1.9" fill="none" d="M10.4 393.7H22.2M22.2 388.1V399.3"/>
<text transform="translate(21.35 383.80) rotate(-90) scale(0.2627 0.2574)" font-size="100" stroke="#000" stroke-width="1.15">/</text>
<text transform="translate(18.80 373.73) rotate(-90) scale(0.2981 0.2896)" font-size="100" font-style="italic" stroke="#000" stroke-width="1.02">v</text>
<text transform="translate(23.80 356.94) rotate(-90) scale(0.1915 0.2064)" font-size="100" stroke="#000" stroke-width="1.51">A</text>
<text transform="translate(23.60 344.16) rotate(-90) scale(0.2259 0.2026)" font-size="100" stroke="#000" stroke-width="1.40">e</text>
<text transform="translate(442.70 305.13) scale(0.2878 0.2751)" font-size="100" font-weight="bold" stroke="#000" stroke-width="1.07">b</text>
</g>
<rect x="487" y="269.9" width="20" height="200.7" fill="url(#cg)" stroke="#000" stroke-width="1.9"/>
<path stroke="#000" stroke-width="1.9" d="M507 270.10h7M507 320.22h7M507 370.34h7M507 420.46h7M507 470.58h7"/>
<g font-family="Liberation Sans, sans-serif" fill="#000">
<text transform="translate(524.42 278.59) scale(0.2635 0.2671)" font-size="100" stroke="#000" stroke-width="1.13">0</text><text transform="translate(539.91 278.50) scale(0.2705 0.2900)" font-size="100" stroke="#000" stroke-width="1.07">.</text><text transform="translate(548.27 278.59) scale(0.2635 0.2671)" font-size="100" stroke="#000" stroke-width="1.13">0</text>
<text transform="translate(524.86 330.46) scale(0.3221 0.2911)" font-size="100" stroke="#000" stroke-width="0.98">−</text><text transform="translate(545.30 328.62) scale(0.2540 0.2657)" font-size="100" stroke="#000" stroke-width="1.15">2</text><text transform="translate(560.86 328.62) scale(0.2705 0.2900)" font-size="100" stroke="#000" stroke-width="1.07">.</text><text transform="translate(569.53 328.71) scale(0.2487 0.2663)" font-size="100" stroke="#000" stroke-width="1.17">5</text>
<text transform="translate(524.86 380.58) scale(0.3221 0.2911)" font-size="100" stroke="#000" stroke-width="0.98">−</text><text transform="translate(545.68 378.83) scale(0.2487 0.2663)" font-size="100" stroke="#000" stroke-width="1.17">5</text><text transform="translate(560.86 378.74) scale(0.2705 0.2900)" font-size="100" stroke="#000" stroke-width="1.07">.</text><text transform="translate(569.22 378.83) scale(0.2635 0.2671)" font-size="100" stroke="#000" stroke-width="1.13">0</text>
<text transform="translate(524.86 430.70) scale(0.3221 0.2911)" font-size="100" stroke="#000" stroke-width="0.98">−</text><text transform="translate(545.48 428.86) scale(0.2578 0.2649)" font-size="100" stroke="#000" stroke-width="1.15">7</text><text transform="translate(560.86 428.86) scale(0.2705 0.2900)" font-size="100" stroke="#000" stroke-width="1.07">.</text><text transform="translate(569.53 428.95) scale(0.2487 0.2663)" font-size="100" stroke="#000" stroke-width="1.17">5</text>
<text transform="translate(524.86 480.82) scale(0.3221 0.2911)" font-size="100" stroke="#000" stroke-width="0.98">−</text><text transform="translate(545.58 478.98) scale(0.2517 0.2649)" font-size="100" stroke="#000" stroke-width="1.16">1</text><text transform="translate(561.27 479.07) scale(0.2635 0.2671)" font-size="100" stroke="#000" stroke-width="1.13">0</text><text transform="translate(576.76 478.98) scale(0.2705 0.2900)" font-size="100" stroke="#000" stroke-width="1.07">.</text><text transform="translate(585.12 479.07) scale(0.2635 0.2671)" font-size="100" stroke="#000" stroke-width="1.13">0</text>
<text transform="translate(623.90 443.24) rotate(-90) scale(0.2366 0.2437)" font-size="100" stroke="#000" stroke-width="1.25">L</text><text transform="translate(623.99 430.50) rotate(-90) scale(0.2445 0.2411)" font-size="100" stroke="#000" stroke-width="1.24">o</text><text transform="translate(623.76 416.45) rotate(-90) scale(0.2500 0.2374)" font-size="100" stroke="#000" stroke-width="1.23">g</text>
<text transform="translate(626.40 400.65) rotate(-90) scale(0.1647 0.1497)" font-size="100" stroke="#000" stroke-width="1.91">1</text>
<text transform="translate(626.26 390.63) rotate(-90) scale(0.1611 0.1455)" font-size="100" stroke="#000" stroke-width="1.96">0</text>
<text transform="translate(627.10 344.38) rotate(-90) scale(0.1627 0.1431)" font-size="100" stroke="#000" stroke-width="1.97">m</text>
<text transform="translate(626.96 329.32) rotate(-90) scale(0.1694 0.1405)" font-size="100" stroke="#000" stroke-width="1.94">a</text>
<text transform="translate(627.10 316.77) rotate(-90) scale(0.1527 0.1457)" font-size="100" stroke="#000" stroke-width="2.01">x</text>
<text transform="translate(622.52 305.19) rotate(-90) scale(0.1546 0.2211)" font-size="100" stroke="#000" stroke-width="1.62">)</text>
<text transform="translate(622.38 377.11) rotate(-90) scale(0.1944 0.2199)" font-size="100" stroke="#000" stroke-width="1.45">(</text><text transform="translate(623.90 368.80) rotate(-90) scale(0.3020 0.2415)" font-size="100" stroke="#000" stroke-width="1.11">f</text><text transform="translate(625.78 360.81) rotate(-90) scale(0.2789 0.2574)" font-size="100" stroke="#000" stroke-width="1.12">/</text><text transform="translate(623.90 352.96) rotate(-90) scale(0.3020 0.2415)" font-size="100" stroke="#000" stroke-width="1.11">f</text>
</g>
</svg></body></html>
